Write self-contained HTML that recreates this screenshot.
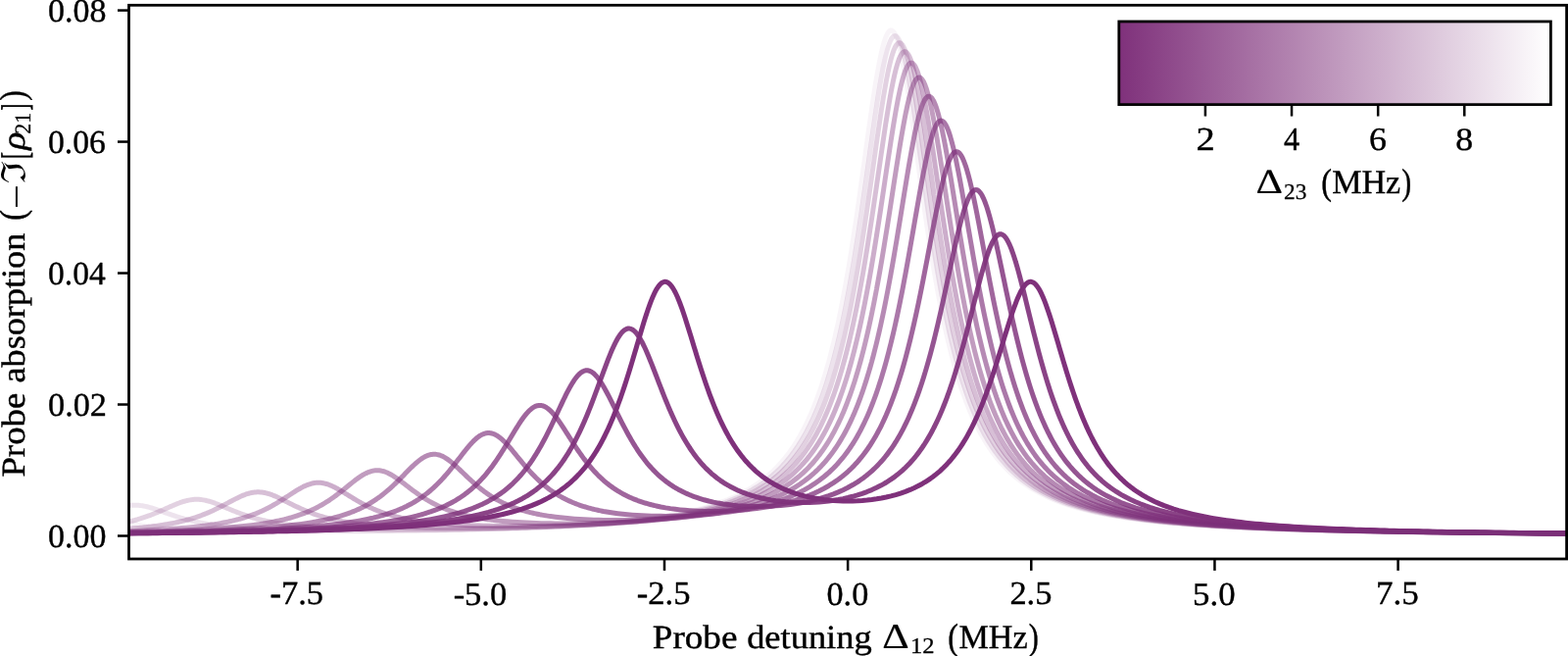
<!DOCTYPE html>
<html lang="en">
<head>
<meta charset="utf-8">
<title>Probe absorption vs probe detuning</title>
<style>
html,body{margin:0;padding:0;background:#fff;}
body{width:1600px;height:669px;overflow:hidden;}
svg{display:block;}
text{font-family:"Liberation Serif", serif;font-size:33.33px;fill:#000;text-rendering:geometricPrecision;stroke:#000;stroke-width:0.4px;stroke-linejoin:round;}
.im{font-family:"DejaVu Math TeX Gyre","DejaVu Sans",serif;stroke:none;}
.it{font-style:italic;}
.ns{stroke-width:0.15px;}
.c{fill:none;stroke:#7f317b;stroke-width:5.0;stroke-linejoin:round;stroke-linecap:butt;}
.sp{fill:none;stroke:#000;stroke-width:2.78;}
.tk{stroke:#000;stroke-width:2.5;}
</style>
</head>
<body>
<svg width="1600" height="669" viewBox="0 0 1600 669">
<defs>
<clipPath id="ax"><rect x="131.5" y="5.3" width="1467.10" height="564.70"/></clipPath>
<linearGradient id="cb" x1="0" y1="0" x2="1" y2="0">
<stop offset="0" stop-color="#7f317b" stop-opacity="1"/>
<stop offset="1" stop-color="#7f317b" stop-opacity="0"/>
</linearGradient>
</defs>
<rect x="0" y="0" width="1600" height="669" fill="#fff"/>
<g clip-path="url(#ax)">
<polyline class="c" stroke-opacity="1.000" points="131.48,543.9 136.37,543.85 141.26,543.81 146.16,543.77 151.05,543.72 155.94,543.67 160.83,543.63 165.72,543.58 170.61,543.53 175.5,543.48 180.39,543.42 185.28,543.37 190.17,543.31 195.07,543.25 199.96,543.19 204.85,543.13 209.74,543.07 214.63,543 219.52,542.94 224.41,542.87 229.3,542.8 234.19,542.72 239.08,542.65 243.98,542.57 248.87,542.49 253.76,542.41 258.65,542.32 263.54,542.23 268.43,542.14 273.32,542.05 278.21,541.95 283.1,541.85 287.99,541.74 292.88,541.63 297.78,541.52 302.67,541.4 307.56,541.28 312.45,541.16 317.34,541.03 322.23,540.89 327.12,540.75 332.01,540.6 336.9,540.45 341.79,540.29 346.69,540.13 351.58,539.96 356.47,539.78 361.36,539.59 366.25,539.39 371.14,539.19 376.03,538.98 380.92,538.75 385.81,538.52 390.7,538.27 395.6,538.02 400.49,537.75 405.38,537.46 410.27,537.17 415.16,536.85 420.05,536.52 424.94,536.18 429.83,535.81 434.72,535.42 439.61,535.01 444.51,534.58 449.4,534.12 454.29,533.63 459.18,533.11 464.07,532.56 468.96,531.98 473.85,531.35 478.74,530.69 483.63,529.97 488.52,529.21 493.42,528.39 498.31,527.51 503.2,526.57 508.09,525.55 512.98,524.45 517.87,523.26 522.76,521.97 527.65,520.58 532.54,519.05 537.43,517.4 542.33,515.58 547.22,513.6 552.11,511.42 557,509.03 558.2,508.4 559.69,507.6 561.19,506.78 561.89,506.38 562.69,505.93 564.18,505.05 565.68,504.14 566.78,503.46 567.18,503.21 568.68,502.25 570.17,501.25 571.67,500.23 571.67,500.23 573.17,499.16 574.67,498.07 576.16,496.94 576.56,496.63 577.66,495.77 579.16,494.56 580.65,493.31 581.45,492.62 582.15,492.01 583.65,490.68 585.15,489.29 586.34,488.15 586.64,487.86 588.14,486.38 589.64,484.84 591.14,483.25 591.23,483.15 592.63,481.61 594.13,479.91 595.63,478.14 596.13,477.54 597.12,476.31 598.62,474.42 600.12,472.45 601.02,471.24 601.62,470.42 603.11,468.31 604.61,466.12 605.91,464.16 606.11,463.85 607.6,461.5 609.1,459.07 610.6,456.54 610.8,456.2 612.1,453.92 613.59,451.21 615.09,448.4 615.69,447.25 616.59,445.49 618.09,442.47 619.58,439.34 620.58,437.2 621.08,436.11 622.58,432.76 624.07,429.3 625.47,425.97 625.57,425.73 627.07,422.03 628.57,418.22 630.06,414.28 630.36,413.48 631.56,410.23 633.06,406.06 634.56,401.77 635.25,399.73 636.05,397.37 637.55,392.86 639.05,388.24 640.14,384.79 640.54,383.52 642.04,378.71 643.54,373.81 645.04,368.85 645.04,368.85 646.53,363.83 648.03,358.77 649.53,353.68 649.93,352.32 651.02,348.58 652.52,343.5 654.02,338.46 654.82,335.8 655.52,333.48 657.01,328.6 658.51,323.84 659.71,320.14 660.01,319.24 661.51,314.82 663,310.62 664.5,306.67 664.6,306.42 666,303.01 667.49,299.67 668.99,296.67 669.49,295.76 670.49,294.05 671.99,291.84 673.48,290.05 674.38,289.18 674.98,288.7 676.48,287.8 677.98,287.37 679.27,287.37 679.47,287.41 680.97,287.91 682.47,288.87 683.96,290.28 684.16,290.5 685.46,292.12 686.96,294.37 688.46,297.01 689.05,298.16 689.95,300 691.45,303.33 692.95,306.95 693.95,309.52 694.44,310.85 695.94,314.97 697.44,319.3 698.84,323.49 698.94,323.79 700.43,328.43 701.93,333.17 703.43,337.99 703.73,338.96 704.93,342.86 706.42,347.76 707.92,352.67 708.62,354.96 709.42,357.56 710.91,362.43 712.41,367.24 713.51,370.73 713.91,372 715.41,376.68 716.9,381.28 718.4,385.78 719.9,390.19 721.39,394.5 722.89,398.69 723.29,399.79 724.39,402.78 725.89,406.75 727.38,410.61 728.18,412.61 728.88,414.35 730.38,417.97 731.88,421.48 733.07,424.21 733.37,424.88 734.87,428.17 736.37,431.34 737.86,434.41 737.96,434.61 739.36,437.37 740.86,440.23 742.36,442.99 742.86,443.89 743.85,445.65 745.35,448.21 746.85,450.69 747.75,452.13 748.35,453.07 749.84,455.37 751.34,457.59 752.64,459.45 752.84,459.73 754.33,461.78 755.83,463.77 757.33,465.68 757.53,465.93 758.83,467.52 760.32,469.3 761.82,471.01 762.42,471.67 763.32,472.65 764.81,474.24 766.31,475.77 767.31,476.76 767.81,477.25 769.31,478.67 770.8,480.04 772.2,481.27 772.3,481.36 773.8,482.63 775.3,483.86 776.79,485.04 777.09,485.27 778.29,486.18 779.79,487.28 781.28,488.34 781.98,488.82 782.78,489.36 784.28,490.35 785.78,491.3 786.87,491.97 787.27,492.21 788.77,493.1 790.27,493.95 791.77,494.77 791.77,494.77 793.26,495.56 794.76,496.32 796.26,497.05 796.66,497.24 797.75,497.76 801.55,499.44 806.44,501.38 811.33,503.09 816.22,504.59 821.11,505.9 826,507.04 830.89,508.02 835.78,508.84 840.68,509.53 845.57,510.08 850.46,510.5 855.35,510.8 860.24,510.98 865.13,511.03 870.02,510.98 874.91,510.8 879.8,510.5 884.69,510.08 889.58,509.53 894.48,508.84 899.37,508.02 904.26,507.04 909.15,505.9 914.04,504.59 918.93,503.09 923.82,501.38 928.71,499.44 932.51,497.76 933.6,497.24 934,497.05 935.5,496.32 937,495.56 938.49,494.77 938.49,494.77 939.99,493.95 941.49,493.1 942.99,492.21 943.39,491.97 944.48,491.3 945.98,490.35 947.48,489.36 948.28,488.82 948.98,488.34 950.47,487.28 951.97,486.18 953.17,485.27 953.47,485.04 954.96,483.86 956.46,482.63 957.96,481.36 958.06,481.27 959.46,480.04 960.95,478.67 962.45,477.25 962.95,476.76 963.95,475.77 965.45,474.24 966.94,472.65 967.84,471.67 968.44,471.01 969.94,469.3 971.43,467.52 972.73,465.93 972.93,465.68 974.43,463.77 975.93,461.78 977.42,459.73 977.62,459.45 978.92,457.59 980.42,455.37 981.91,453.07 982.51,452.13 983.41,450.69 984.91,448.21 986.41,445.65 987.4,443.89 987.9,442.99 989.4,440.23 990.9,437.37 992.3,434.61 992.4,434.41 993.89,431.34 995.39,428.17 996.89,424.88 997.19,424.21 998.38,421.48 999.88,417.97 1001.38,414.35 1002.08,412.61 1002.88,410.61 1004.37,406.75 1005.87,402.78 1006.97,399.79 1007.37,398.69 1008.87,394.5 1010.36,390.19 1011.86,385.78 1011.86,385.78 1013.36,381.28 1014.85,376.68 1016.35,372 1016.75,370.73 1017.85,367.24 1019.35,362.43 1020.84,357.56 1021.64,354.96 1022.34,352.67 1023.84,347.76 1025.33,342.86 1026.53,338.96 1026.83,337.99 1028.33,333.17 1029.83,328.43 1031.32,323.79 1031.42,323.49 1032.82,319.3 1034.32,314.97 1035.82,310.85 1036.31,309.52 1037.31,306.95 1038.81,303.33 1040.31,300 1041.21,298.16 1041.8,297.01 1043.3,294.37 1044.8,292.12 1046.1,290.5 1046.3,290.28 1047.79,288.87 1049.29,287.91 1050.79,287.41 1050.99,287.37 1052.28,287.37 1053.78,287.8 1055.28,288.7 1055.88,289.18 1056.78,290.05 1058.27,291.84 1059.77,294.05 1060.77,295.76 1061.27,296.67 1062.77,299.67 1064.26,303.01 1065.66,306.42 1065.76,306.67 1067.26,310.62 1068.75,314.82 1070.25,319.24 1070.55,320.14 1071.75,323.84 1073.25,328.6 1074.74,333.48 1075.44,335.8 1076.24,338.46 1077.74,343.5 1079.24,348.58 1080.33,352.32 1080.73,353.68 1082.23,358.77 1083.73,363.83 1085.22,368.85 1085.22,368.85 1086.72,373.81 1088.22,378.71 1089.72,383.52 1090.12,384.79 1091.21,388.24 1092.71,392.86 1094.21,397.37 1095.01,399.73 1095.7,401.77 1097.2,406.06 1098.7,410.23 1099.9,413.48 1100.2,414.28 1101.69,418.22 1103.19,422.03 1104.69,425.73 1104.79,425.97 1106.19,429.3 1107.68,432.76 1109.18,436.11 1109.68,437.2 1110.68,439.34 1112.17,442.47 1113.67,445.49 1114.57,447.25 1115.17,448.4 1116.67,451.21 1118.16,453.92 1119.46,456.2 1119.66,456.54 1121.16,459.07 1122.66,461.5 1124.15,463.85 1124.35,464.16 1125.65,466.12 1127.15,468.31 1128.64,470.42 1129.24,471.24 1130.14,472.45 1131.64,474.42 1133.14,476.31 1134.13,477.54 1134.63,478.14 1136.13,479.91 1137.63,481.61 1139.03,483.15 1139.12,483.25 1140.62,484.84 1142.12,486.38 1143.62,487.86 1143.92,488.15 1145.11,489.29 1146.61,490.68 1148.11,492.01 1148.81,492.62 1149.61,493.31 1151.1,494.56 1152.6,495.77 1153.7,496.63 1154.1,496.94 1155.59,498.07 1157.09,499.16 1158.59,500.23 1158.59,500.23 1160.09,501.25 1161.58,502.25 1163.08,503.21 1163.48,503.46 1164.58,504.14 1166.08,505.05 1167.57,505.93 1168.37,506.38 1169.07,506.78 1170.57,507.6 1172.06,508.4 1173.26,509.03 1178.15,511.42 1183.04,513.6 1187.93,515.58 1192.83,517.4 1197.72,519.05 1202.61,520.58 1207.5,521.97 1212.39,523.26 1217.28,524.45 1222.17,525.55 1227.06,526.57 1231.95,527.51 1236.84,528.39 1241.74,529.21 1246.63,529.97 1251.52,530.69 1256.41,531.35 1261.3,531.98 1266.19,532.56 1271.08,533.11 1275.97,533.63 1280.86,534.12 1285.75,534.58 1290.65,535.01 1295.54,535.42 1300.43,535.81 1305.32,536.18 1310.21,536.52 1315.1,536.85 1319.99,537.17 1324.88,537.46 1329.77,537.75 1334.66,538.02 1339.56,538.27 1344.45,538.52 1349.34,538.75 1354.23,538.98 1359.12,539.19 1364.01,539.39 1368.9,539.59 1373.79,539.78 1378.68,539.96 1383.57,540.13 1388.47,540.29 1393.36,540.45 1398.25,540.6 1403.14,540.75 1408.03,540.89 1412.92,541.03 1417.81,541.16 1422.7,541.28 1427.59,541.4 1432.48,541.52 1437.38,541.63 1442.27,541.74 1447.16,541.85 1452.05,541.95 1456.94,542.05 1461.83,542.14 1466.72,542.23 1471.61,542.32 1476.5,542.41 1481.39,542.49 1486.28,542.57 1491.18,542.65 1496.07,542.72 1500.96,542.8 1505.85,542.87 1510.74,542.94 1515.63,543 1520.52,543.07 1525.41,543.13 1530.3,543.19 1535.19,543.25 1540.09,543.31 1544.98,543.37 1549.87,543.42 1554.76,543.48 1559.65,543.53 1564.54,543.58 1569.43,543.63 1574.32,543.67 1579.21,543.72 1584.1,543.77 1589,543.81 1593.89,543.85 1598.78,543.9"/>
<polyline class="c" stroke-opacity="0.914" points="131.48,543.82 136.37,543.78 141.26,543.73 146.16,543.68 151.05,543.63 155.94,543.58 160.83,543.53 165.72,543.48 170.61,543.42 175.5,543.37 180.39,543.31 185.28,543.25 190.17,543.19 195.07,543.13 199.96,543.06 204.85,543 209.74,542.93 214.63,542.86 219.52,542.78 224.41,542.71 229.3,542.63 234.19,542.55 239.08,542.46 243.98,542.38 248.87,542.29 253.76,542.2 258.65,542.1 263.54,542 268.43,541.9 273.32,541.79 278.21,541.68 283.1,541.57 287.99,541.45 292.88,541.32 297.78,541.2 302.67,541.06 307.56,540.92 312.45,540.78 317.34,540.63 322.23,540.47 327.12,540.31 332.01,540.14 336.9,539.96 341.79,539.77 346.69,539.57 351.58,539.37 356.47,539.16 361.36,538.93 366.25,538.7 371.14,538.45 376.03,538.19 380.92,537.92 385.81,537.63 390.7,537.32 395.6,537 400.49,536.67 405.38,536.31 410.27,535.93 415.16,535.53 420.05,535.1 424.94,534.65 429.83,534.17 434.72,533.66 439.61,533.12 444.51,532.54 449.4,531.91 454.29,531.25 459.18,530.53 464.07,529.77 468.96,528.94 473.85,528.05 478.74,527.09 483.63,526.05 488.52,524.93 493.42,523.7 498.31,522.37 503.2,520.92 508.09,519.33 512.98,517.59 517.87,515.68 521.1,514.31 522.6,513.65 522.76,513.58 524.09,512.97 525.59,512.26 527.09,511.53 527.65,511.25 528.59,510.79 530.08,510.01 531.58,509.21 532.54,508.69 533.08,508.39 534.57,507.54 536.07,506.66 537.43,505.84 537.57,505.76 539.07,504.82 540.56,503.86 542.06,502.86 542.33,502.68 543.56,501.83 545.06,500.76 546.55,499.65 547.22,499.15 548.05,498.51 549.55,497.33 551.04,496.11 552.11,495.22 552.54,494.85 554.04,493.54 555.54,492.18 557,490.81 557.03,490.78 558.53,489.33 560.03,487.82 561.52,486.27 561.89,485.88 563.02,484.65 564.52,482.98 566.02,481.25 566.78,480.34 567.51,479.45 569.01,477.59 570.51,475.67 571.67,474.12 572.01,473.67 573.5,471.6 575,469.46 576.5,467.24 576.56,467.14 577.99,464.94 579.49,462.56 580.99,460.1 581.45,459.32 582.49,457.55 583.98,454.91 585.48,452.19 586.34,450.57 586.98,449.37 588.48,446.46 589.97,443.45 591.23,440.84 591.47,440.35 592.97,437.16 594.46,433.87 595.96,430.49 596.13,430.11 597.46,427.01 598.96,423.45 600.45,419.8 601.02,418.4 601.95,416.06 603.45,412.25 604.94,408.37 605.91,405.84 606.44,404.43 607.94,400.43 609.44,396.39 610.8,392.68 610.93,392.31 612.43,388.23 613.93,384.13 615.43,380.06 615.69,379.34 616.92,376.02 618.42,372.03 619.92,368.12 620.58,366.42 621.41,364.32 622.91,360.63 624.41,357.1 625.47,354.7 625.91,353.74 627.4,350.59 628.9,347.66 630.36,345.05 630.4,344.99 631.9,342.59 633.39,340.49 634.89,338.71 635.25,338.33 636.39,337.27 637.88,336.17 639.38,335.43 640.14,335.2 640.88,335.06 642.38,335.06 643.87,335.42 645.04,335.96 645.37,336.15 646.87,337.23 648.36,338.65 649.86,340.4 649.93,340.48 651.36,342.46 652.86,344.8 654.35,347.4 654.82,348.26 655.85,350.25 657.35,353.31 658.85,356.56 659.71,358.5 660.34,359.97 661.84,363.52 663.34,367.18 664.6,370.34 664.83,370.93 666.33,374.75 667.83,378.62 669.33,382.51 669.49,382.94 670.82,386.42 672.32,390.32 673.82,394.19 674.38,395.65 675.32,398.04 676.81,401.84 678.31,405.58 679.27,407.96 679.81,409.27 681.3,412.88 682.8,416.42 684.16,419.57 684.3,419.87 685.8,423.25 687.29,426.53 688.79,429.73 689.05,430.28 690.29,432.84 691.78,435.85 693.28,438.78 693.95,440.04 694.78,441.61 696.28,444.35 697.77,447.01 698.84,448.84 699.27,449.58 700.77,452.06 702.27,454.45 703.73,456.71 703.76,456.77 705.26,459 706.76,461.16 708.25,463.23 708.62,463.73 709.75,465.24 711.25,467.17 712.75,469.04 713.51,469.96 714.24,470.83 715.74,472.56 717.24,474.23 718.4,475.49 718.73,475.84 720.23,477.39 721.73,478.88 723.23,480.32 723.29,480.38 724.72,481.7 726.22,483.04 727.72,484.32 728.18,484.71 729.22,485.56 730.71,486.75 732.21,487.9 733.07,488.55 733.71,489.01 735.2,490.08 736.7,491.1 737.96,491.94 738.2,492.09 739.7,493.04 741.19,493.96 742.69,494.84 742.86,494.94 744.19,495.7 745.69,496.52 747.18,497.3 747.75,497.59 748.68,498.06 750.18,498.8 751.67,499.5 752.64,499.94 753.17,500.18 754.67,500.83 756.17,501.46 757.53,502.01 757.66,502.06 759.16,502.64 760.66,503.2 762.42,503.83 767.31,505.42 772.2,506.82 777.09,508.03 781.98,509.07 786.87,509.96 791.77,510.71 796.66,511.31 801.55,511.79 806.44,512.15 811.33,512.4 816.22,512.53 821.11,512.54 826,512.45 830.89,512.25 835.78,511.94 840.68,511.51 845.57,510.97 850.46,510.31 855.35,509.52 860.24,508.59 865.13,507.52 870.02,506.29 874.91,504.9 879.8,503.33 884.69,501.55 889.58,499.56 894.48,497.33 899.37,494.82 901.55,493.61 903.04,492.74 904.26,492.01 904.54,491.84 906.04,490.91 907.53,489.95 909.03,488.95 909.15,488.87 910.53,487.91 912.03,486.84 913.52,485.73 914.04,485.34 915.02,484.59 916.52,483.4 918.02,482.16 918.93,481.39 919.51,480.89 921.01,479.56 922.51,478.19 923.82,476.95 924,476.77 925.5,475.3 927,473.77 928.5,472.19 928.71,471.96 929.99,470.55 931.49,468.85 932.99,467.08 933.6,466.34 934.49,465.25 935.98,463.35 937.48,461.39 938.49,460.01 938.98,459.34 940.47,457.22 941.97,455.03 943.39,452.87 943.47,452.74 944.97,450.38 946.46,447.92 947.96,445.37 948.28,444.82 949.46,442.73 950.95,439.98 952.45,437.14 953.17,435.74 953.95,434.18 955.45,431.12 956.94,427.94 958.06,425.5 958.44,424.65 959.94,421.23 961.44,417.69 962.93,414.02 962.95,413.98 964.43,410.22 965.93,406.29 967.42,402.22 967.84,401.06 968.92,398.01 970.42,393.66 971.92,389.17 972.73,386.67 973.41,384.54 974.91,379.77 976.41,374.85 977.62,370.77 977.91,369.8 979.4,364.62 980.9,359.3 982.4,353.86 982.51,353.43 983.89,348.3 985.39,342.64 986.89,336.88 987.4,334.88 988.39,331.04 989.88,325.14 991.38,319.2 992.3,315.55 992.88,313.22 994.37,307.25 995.87,301.31 997.19,296.14 997.37,295.42 998.87,289.63 1000.36,283.95 1001.86,278.44 1002.08,277.66 1003.36,273.12 1004.86,268.05 1006.35,263.25 1006.97,261.37 1007.85,258.77 1009.35,254.65 1010.84,250.94 1011.86,248.67 1012.34,247.66 1013.84,244.85 1015.34,242.54 1016.75,240.85 1016.83,240.76 1018.33,239.53 1019.83,238.86 1021.33,238.76 1021.64,238.82 1022.82,239.24 1024.32,240.28 1025.82,241.89 1026.53,242.85 1027.31,244.03 1028.81,246.7 1030.31,249.86 1031.42,252.51 1031.81,253.47 1033.3,257.52 1034.8,261.95 1036.3,266.73 1036.31,266.78 1037.79,271.81 1039.29,277.16 1040.79,282.74 1041.21,284.32 1042.29,288.5 1043.78,294.4 1045.28,300.41 1046.1,303.72 1046.78,306.5 1048.28,312.63 1049.77,318.77 1050.99,323.75 1051.27,324.91 1052.77,331 1054.26,337.04 1055.76,343.01 1055.88,343.47 1057.26,348.88 1058.76,354.65 1060.25,360.31 1060.77,362.23 1061.75,365.84 1063.25,371.24 1064.75,376.51 1065.66,379.66 1066.24,381.63 1067.74,386.61 1069.24,391.45 1070.55,395.57 1070.73,396.14 1072.23,400.68 1073.73,405.08 1075.23,409.34 1075.44,409.94 1076.72,413.45 1078.22,417.42 1079.72,421.26 1080.33,422.8 1081.21,424.97 1082.71,428.55 1084.21,432 1085.22,434.27 1085.71,435.33 1087.2,438.54 1088.7,441.64 1090.12,444.46 1090.2,444.63 1091.7,447.5 1093.19,450.28 1094.69,452.96 1095.01,453.51 1096.19,455.54 1097.68,458.03 1099.18,460.43 1099.9,461.55 1100.68,462.74 1102.18,464.98 1103.67,467.13 1104.79,468.69 1105.17,469.21 1106.67,471.22 1108.17,473.15 1109.66,475.02 1109.68,475.04 1111.16,476.82 1112.66,478.56 1114.15,480.25 1114.57,480.7 1115.65,481.87 1117.15,483.44 1118.65,484.96 1119.46,485.77 1120.14,486.43 1121.64,487.85 1123.14,489.22 1124.35,490.3 1124.63,490.55 1126.13,491.83 1127.63,493.07 1129.13,494.28 1129.24,494.37 1130.62,495.44 1132.12,496.57 1133.62,497.66 1134.13,498.03 1135.12,498.72 1136.61,499.75 1138.11,500.74 1139.03,501.34 1139.61,501.71 1141.1,502.64 1143.92,504.33 1148.81,507.04 1153.7,509.5 1158.59,511.75 1163.48,513.8 1168.37,515.67 1173.26,517.4 1178.15,518.98 1183.04,520.44 1187.93,521.78 1192.83,523.03 1197.72,524.18 1202.61,525.25 1207.5,526.24 1212.39,527.17 1217.28,528.03 1222.17,528.84 1227.06,529.59 1231.95,530.3 1236.84,530.96 1241.74,531.59 1246.63,532.17 1251.52,532.72 1256.41,533.24 1261.3,533.73 1266.19,534.19 1271.08,534.63 1275.97,535.05 1280.86,535.44 1285.75,535.81 1290.65,536.16 1295.54,536.5 1300.43,536.82 1305.32,537.12 1310.21,537.41 1315.1,537.69 1319.99,537.95 1324.88,538.2 1329.77,538.44 1334.66,538.67 1339.56,538.89 1344.45,539.1 1349.34,539.3 1354.23,539.5 1359.12,539.68 1364.01,539.86 1368.9,540.03 1373.79,540.19 1378.68,540.35 1383.57,540.5 1388.47,540.65 1393.36,540.79 1398.25,540.93 1403.14,541.06 1408.03,541.18 1412.92,541.3 1417.81,541.42 1422.7,541.53 1427.59,541.64 1432.48,541.75 1437.38,541.85 1442.27,541.95 1447.16,542.05 1452.05,542.14 1456.94,542.23 1461.83,542.32 1466.72,542.4 1471.61,542.48 1476.5,542.56 1481.39,542.64 1486.28,542.71 1491.18,542.78 1496.07,542.85 1500.96,542.92 1505.85,542.99 1510.74,543.05 1515.63,543.11 1520.52,543.17 1525.41,543.23 1530.3,543.29 1535.19,543.35 1540.09,543.4 1544.98,543.45 1549.87,543.51 1554.76,543.56 1559.65,543.61 1564.54,543.65 1569.43,543.7 1574.32,543.74 1579.21,543.79 1584.1,543.83 1589,543.87 1593.89,543.92 1598.78,543.96"/>
<polyline class="c" stroke-opacity="0.827" points="131.48,543.72 136.37,543.67 141.26,543.62 146.16,543.57 151.05,543.52 155.94,543.46 160.83,543.4 165.72,543.35 170.61,543.29 175.5,543.22 180.39,543.16 185.28,543.09 190.17,543.03 195.07,542.96 199.96,542.88 204.85,542.81 209.74,542.73 214.63,542.65 219.52,542.57 224.41,542.48 229.3,542.39 234.19,542.3 239.08,542.2 243.98,542.1 248.87,542 253.76,541.89 258.65,541.78 263.54,541.67 268.43,541.55 273.32,541.42 278.21,541.29 283.1,541.16 287.99,541.01 292.88,540.87 297.78,540.71 302.67,540.55 307.56,540.38 312.45,540.21 317.34,540.02 322.23,539.83 327.12,539.63 332.01,539.41 336.9,539.19 341.79,538.95 346.69,538.7 351.58,538.44 356.47,538.17 361.36,537.88 366.25,537.57 371.14,537.24 376.03,536.9 380.92,536.53 385.81,536.14 390.7,535.73 395.6,535.29 400.49,534.82 405.38,534.31 410.27,533.78 415.16,533.2 420.05,532.58 424.94,531.92 429.83,531.21 434.72,530.44 439.61,529.6 444.51,528.7 449.4,527.72 454.29,526.66 459.18,525.5 464.07,524.24 468.96,522.86 473.85,521.34 478.15,519.88 478.74,519.67 479.65,519.35 481.14,518.79 482.64,518.22 483.63,517.83 484.14,517.63 485.64,517.03 487.13,516.4 488.52,515.8 488.63,515.76 490.13,515.09 491.62,514.41 493.12,513.7 493.42,513.56 494.62,512.97 496.12,512.21 497.61,511.43 498.31,511.06 499.11,510.63 500.61,509.79 502.11,508.93 503.2,508.29 503.6,508.05 505.1,507.13 506.6,506.17 508.09,505.2 508.09,505.19 509.59,504.17 511.09,503.12 512.59,502.03 512.98,501.74 514.08,500.91 515.58,499.74 517.08,498.53 517.87,497.87 518.58,497.28 520.07,495.99 521.57,494.64 522.76,493.54 523.07,493.26 524.56,491.82 526.06,490.33 527.56,488.79 527.65,488.69 529.06,487.19 530.55,485.53 532.05,483.82 532.54,483.24 533.55,482.05 535.04,480.21 536.54,478.31 537.43,477.15 538.04,476.35 539.54,474.32 541.03,472.21 542.33,470.35 542.53,470.04 544.03,467.8 545.53,465.48 547.02,463.1 547.22,462.78 548.52,460.63 550.02,458.1 551.51,455.49 552.11,454.44 553.01,452.81 554.51,450.06 556.01,447.24 557,445.33 557.5,444.35 559,441.4 560.5,438.39 561.89,435.55 562,435.33 563.49,432.22 564.99,429.07 566.49,425.89 566.78,425.27 567.98,422.69 569.48,419.48 570.98,416.27 571.67,414.79 572.48,413.07 573.97,409.9 575.47,406.78 576.56,404.54 576.97,403.72 578.46,400.74 579.96,397.86 581.45,395.11 581.46,395.1 582.96,392.48 584.45,390.01 585.95,387.72 586.34,387.16 587.45,385.63 588.95,383.76 590.44,382.12 591.23,381.35 591.94,380.72 593.44,379.58 594.93,378.72 596.13,378.23 596.43,378.13 597.93,377.82 599.43,377.8 600.92,378.07 601.02,378.09 602.42,378.61 603.92,379.43 605.42,380.51 605.91,380.93 606.91,381.85 608.41,383.43 609.91,385.23 610.8,386.4 611.4,387.23 612.9,389.42 614.4,391.78 615.69,393.94 615.9,394.29 617.39,396.93 618.89,399.68 620.39,402.52 620.58,402.89 621.88,405.43 623.38,408.4 624.88,411.41 625.47,412.61 626.38,414.44 627.87,417.48 629.37,420.53 630.36,422.53 630.87,423.55 632.37,426.56 633.86,429.53 635.25,432.26 635.36,432.47 636.86,435.35 638.35,438.19 639.85,440.97 640.14,441.5 641.35,443.68 642.85,446.33 644.34,448.92 645.04,450.09 645.84,451.44 647.34,453.89 648.83,456.27 649.93,457.95 650.33,458.57 651.83,460.81 653.33,462.98 654.82,465.07 654.82,465.08 656.32,467.1 657.82,469.07 659.32,470.96 659.71,471.45 660.81,472.8 662.31,474.56 663.81,476.27 664.6,477.15 665.3,477.92 666.8,479.51 668.3,481.04 669.49,482.22 669.8,482.52 671.29,483.94 672.79,485.31 674.29,486.64 674.38,486.72 675.79,487.91 677.28,489.14 678.78,490.32 679.27,490.7 680.28,491.46 681.77,492.56 683.27,493.62 684.16,494.23 684.77,494.64 686.27,495.62 687.76,496.57 689.05,497.35 689.26,497.48 690.76,498.35 692.25,499.2 693.75,500.01 693.95,500.11 695.25,500.79 696.75,501.55 698.24,502.27 698.84,502.55 699.74,502.97 701.24,503.64 702.74,504.29 703.73,504.7 704.23,504.91 705.73,505.51 707.23,506.09 708.62,506.6 708.72,506.64 710.22,507.17 711.72,507.68 713.22,508.18 713.51,508.27 714.71,508.65 716.21,509.1 717.71,509.54 718.4,509.73 723.29,511.01 728.18,512.13 733.07,513.09 737.96,513.91 742.86,514.6 747.75,515.18 752.64,515.64 757.53,515.99 762.42,516.25 767.31,516.41 772.2,516.48 777.09,516.45 781.98,516.34 786.87,516.13 791.77,515.84 796.66,515.46 801.55,514.98 806.44,514.4 811.33,513.73 816.22,512.95 821.11,512.05 826,511.04 830.89,509.9 835.78,508.62 840.68,507.19 845.57,505.6 850.46,503.83 855.35,501.87 860.24,499.68 865.13,497.25 870.02,494.56 874.91,491.56 876.44,490.55 877.94,489.53 879.43,488.48 879.8,488.22 880.93,487.39 882.43,486.27 883.93,485.1 884.69,484.49 885.42,483.9 886.92,482.66 888.42,481.37 889.58,480.34 889.91,480.04 891.41,478.66 892.91,477.23 894.41,475.76 894.48,475.69 895.9,474.23 897.4,472.65 898.9,471.01 899.37,470.48 900.4,469.31 901.89,467.55 903.39,465.73 904.26,464.64 904.89,463.84 906.38,461.88 907.88,459.85 909.15,458.07 909.38,457.75 910.88,455.56 912.37,453.3 913.87,450.96 914.04,450.68 915.37,448.52 916.86,446 918.36,443.38 918.93,442.35 919.86,440.66 921.36,437.84 922.85,434.91 923.82,432.96 924.35,431.87 925.85,428.72 927.35,425.44 928.71,422.35 928.84,422.05 930.34,418.53 931.84,414.87 933.33,411.08 933.6,410.39 934.83,407.15 936.33,403.07 937.83,398.85 938.49,396.91 939.32,394.47 940.82,389.94 942.32,385.24 943.39,381.8 943.82,380.39 945.31,375.37 946.81,370.18 948.28,364.93 948.31,364.82 949.8,359.3 951.3,353.61 952.8,347.76 953.17,346.29 954.3,341.74 955.79,335.57 957.29,329.24 958.06,325.94 958.79,322.78 960.28,316.19 961.78,309.48 962.95,304.17 963.28,302.67 964.78,295.77 966.27,288.82 967.77,281.83 967.84,281.5 969.27,274.83 970.77,267.85 972.26,260.94 972.73,258.79 973.76,254.11 975.26,247.43 976.75,240.92 977.62,237.25 978.25,234.64 979.75,228.63 981.25,222.95 982.51,218.42 982.74,217.63 984.24,212.74 985.74,208.31 987.24,204.39 987.4,203.98 988.73,201.02 990.23,198.25 991.73,196.09 992.3,195.44 993.22,194.58 994.72,193.73 996.22,193.56 997.19,193.8 997.72,194.06 999.21,195.24 1000.71,197.07 1002.08,199.31 1002.21,199.55 1003.7,202.64 1005.2,206.31 1006.7,210.52 1006.97,211.33 1008.2,215.23 1009.69,220.4 1011.19,225.98 1011.86,228.58 1012.69,231.91 1014.19,238.15 1015.68,244.65 1016.75,249.42 1017.18,251.36 1018.68,258.24 1020.17,265.24 1021.64,272.18 1021.67,272.32 1023.17,279.45 1024.67,286.59 1026.16,293.71 1026.53,295.46 1027.66,300.79 1029.16,307.79 1030.65,314.7 1031.42,318.21 1032.15,321.5 1033.65,328.18 1035.15,334.72 1036.31,339.71 1036.64,341.11 1038.14,347.34 1039.64,353.41 1041.14,359.32 1041.21,359.59 1042.63,365.06 1044.13,370.62 1045.63,376.01 1046.1,377.67 1047.12,381.23 1048.62,386.29 1050.12,391.17 1050.99,393.93 1051.62,395.89 1053.11,400.45 1054.61,404.85 1055.88,408.45 1056.11,409.09 1057.61,413.19 1059.1,417.13 1060.6,420.94 1060.77,421.36 1062.1,424.61 1063.59,428.15 1065.09,431.56 1065.66,432.82 1066.59,434.85 1068.09,438.01 1069.58,441.07 1070.55,442.98 1071.08,444.01 1072.58,446.85 1074.07,449.58 1075.44,451.99 1075.57,452.22 1077.07,454.76 1078.57,457.21 1080.06,459.57 1080.33,459.99 1081.56,461.85 1083.06,464.05 1084.56,466.17 1085.22,467.1 1086.05,468.22 1087.55,470.2 1089.05,472.11 1090.12,473.43 1090.54,473.96 1092.04,475.74 1093.54,477.46 1095.01,479.09 1095.04,479.12 1096.53,480.73 1098.03,482.29 1099.53,483.79 1099.9,484.16 1101.03,485.25 1102.52,486.65 1104.02,488.02 1104.79,488.7 1105.52,489.34 1107.01,490.61 1108.51,491.85 1109.68,492.79 1110.01,493.05 1111.51,494.21 1113,495.34 1114.5,496.43 1114.57,496.48 1116,497.48 1119.46,499.81 1124.35,502.83 1129.24,505.58 1134.13,508.08 1139.03,510.37 1143.92,512.46 1148.81,514.38 1153.7,516.14 1158.59,517.77 1163.48,519.27 1168.37,520.65 1173.26,521.93 1178.15,523.12 1183.04,524.23 1187.93,525.26 1192.83,526.22 1197.72,527.12 1202.61,527.95 1207.5,528.74 1212.39,529.47 1217.28,530.16 1222.17,530.81 1227.06,531.43 1231.95,532 1236.84,532.54 1241.74,533.06 1246.63,533.54 1251.52,534 1256.41,534.44 1261.3,534.85 1266.19,535.24 1271.08,535.61 1275.97,535.96 1280.86,536.3 1285.75,536.62 1290.65,536.92 1295.54,537.22 1300.43,537.49 1305.32,537.76 1310.21,538.01 1315.1,538.25 1319.99,538.49 1324.88,538.71 1329.77,538.92 1334.66,539.12 1339.56,539.32 1344.45,539.51 1349.34,539.69 1354.23,539.86 1359.12,540.03 1364.01,540.19 1368.9,540.34 1373.79,540.49 1378.68,540.64 1383.57,540.77 1388.47,540.91 1393.36,541.04 1398.25,541.16 1403.14,541.28 1408.03,541.4 1412.92,541.51 1417.81,541.62 1422.7,541.72 1427.59,541.82 1432.48,541.92 1437.38,542.02 1442.27,542.11 1447.16,542.2 1452.05,542.28 1456.94,542.37 1461.83,542.45 1466.72,542.53 1471.61,542.6 1476.5,542.68 1481.39,542.75 1486.28,542.82 1491.18,542.89 1496.07,542.95 1500.96,543.02 1505.85,543.08 1510.74,543.14 1515.63,543.2 1520.52,543.26 1525.41,543.31 1530.3,543.37 1535.19,543.42 1540.09,543.47 1544.98,543.52 1549.87,543.57 1554.76,543.62 1559.65,543.67 1564.54,543.71 1569.43,543.76 1574.32,543.8 1579.21,543.84 1584.1,543.88 1589,543.92 1593.89,543.96 1598.78,544"/>
<polyline class="c" stroke-opacity="0.741" points="131.48,543.58 136.37,543.53 141.26,543.47 146.16,543.41 151.05,543.35 155.94,543.29 160.83,543.23 165.72,543.16 170.61,543.09 175.5,543.02 180.39,542.95 185.28,542.87 190.17,542.79 195.07,542.71 199.96,542.62 204.85,542.53 209.74,542.44 214.63,542.35 219.52,542.25 224.41,542.15 229.3,542.04 234.19,541.93 239.08,541.81 243.98,541.69 248.87,541.57 253.76,541.44 258.65,541.3 263.54,541.15 268.43,541 273.32,540.85 278.21,540.68 283.1,540.51 287.99,540.33 292.88,540.14 297.78,539.94 302.67,539.73 307.56,539.5 312.45,539.27 317.34,539.02 322.23,538.76 327.12,538.48 332.01,538.19 336.9,537.87 341.79,537.54 346.69,537.19 351.58,536.81 356.47,536.41 361.36,535.98 366.25,535.52 371.14,535.03 376.03,534.5 380.92,533.94 385.81,533.33 390.7,532.66 395.6,531.95 400.49,531.18 405.38,530.34 410.27,529.42 415.16,528.42 420.05,527.33 424.94,526.14 429.83,524.83 430.08,524.76 431.58,524.33 433.07,523.89 434.57,523.43 434.72,523.39 436.07,522.96 437.57,522.48 439.06,521.98 439.61,521.8 440.56,521.47 442.06,520.94 443.56,520.39 444.51,520.03 445.05,519.83 446.55,519.24 448.05,518.64 449.4,518.08 449.54,518.02 451.04,517.38 452.54,516.72 454.04,516.03 454.29,515.92 455.53,515.33 457.03,514.6 458.53,513.84 459.18,513.5 460.03,513.06 461.52,512.25 463.02,511.41 464.07,510.81 464.52,510.55 466.01,509.66 467.51,508.73 468.96,507.8 469.01,507.77 470.51,506.78 472,505.75 473.5,504.69 473.85,504.44 475,503.59 476.49,502.45 477.99,501.28 478.74,500.67 479.49,500.06 480.99,498.79 482.48,497.49 483.63,496.45 483.98,496.13 485.48,494.73 486.98,493.28 488.47,491.79 488.52,491.73 489.97,490.24 491.47,488.63 492.96,486.98 493.42,486.47 494.46,485.27 495.96,483.51 497.46,481.69 498.31,480.63 498.95,479.81 500.45,477.88 501.95,475.89 503.2,474.18 503.45,473.84 504.94,471.74 506.44,469.58 507.94,467.38 508.09,467.15 509.43,465.12 510.93,462.81 512.43,460.46 512.98,459.59 513.93,458.07 515.42,455.64 516.92,453.19 517.87,451.62 518.42,450.71 519.91,448.22 521.41,445.72 522.76,443.47 522.91,443.22 524.41,440.74 525.9,438.28 527.4,435.86 527.65,435.46 528.9,433.49 530.4,431.18 531.89,428.95 532.54,428 533.39,426.81 534.89,424.78 536.38,422.87 537.43,421.62 537.88,421.1 539.38,419.49 540.88,418.04 542.33,416.8 542.37,416.77 543.87,415.68 545.37,414.8 546.87,414.13 547.22,414 548.36,413.67 549.86,413.43 551.36,413.4 552.11,413.47 552.85,413.6 554.35,414.01 555.85,414.63 557,415.25 557.35,415.46 558.84,416.48 560.34,417.69 561.84,419.06 561.89,419.11 563.33,420.6 564.83,422.28 566.33,424.1 566.78,424.67 567.83,426.03 569.32,428.06 570.82,430.18 571.67,431.41 572.32,432.36 573.82,434.61 575.31,436.9 576.56,438.84 576.81,439.23 578.31,441.58 579.8,443.93 581.3,446.29 581.45,446.53 582.8,448.64 584.3,450.97 585.79,453.28 586.34,454.12 587.29,455.56 588.79,457.8 590.28,460.01 591.23,461.38 591.78,462.17 593.28,464.29 594.78,466.35 596.13,468.17 596.27,468.37 597.77,470.34 599.27,472.25 600.77,474.11 601.02,474.41 602.26,475.91 603.76,477.66 605.26,479.36 605.91,480.08 606.75,481 608.25,482.59 609.75,484.13 610.8,485.18 611.25,485.62 612.74,487.05 614.24,488.44 615.69,489.74 615.74,489.78 617.24,491.07 618.73,492.32 620.23,493.53 620.58,493.8 621.73,494.69 623.22,495.81 624.72,496.89 625.47,497.41 626.22,497.93 627.72,498.93 629.21,499.9 630.36,500.61 630.71,500.83 632.21,501.73 633.7,502.59 635.2,503.42 635.25,503.45 636.7,504.22 638.2,505 639.69,505.74 640.14,505.96 641.19,506.46 642.69,507.15 644.19,507.81 645.04,508.18 645.68,508.45 647.18,509.07 648.68,509.66 649.93,510.14 650.17,510.24 651.67,510.79 653.17,511.32 654.67,511.83 654.82,511.88 656.16,512.32 657.66,512.79 659.16,513.24 659.71,513.4 660.66,513.68 662.15,514.1 663.65,514.5 664.6,514.75 665.15,514.89 666.64,515.26 668.14,515.62 669.49,515.93 669.64,515.96 674.38,516.96 679.27,517.86 684.16,518.64 689.05,519.3 693.95,519.87 698.84,520.34 703.73,520.72 708.62,521.02 713.51,521.24 718.4,521.39 723.29,521.46 728.18,521.47 733.07,521.41 737.96,521.29 742.86,521.09 747.75,520.84 752.64,520.51 757.53,520.12 762.42,519.66 767.31,519.12 772.2,518.51 777.09,517.82 781.98,517.05 786.87,516.19 791.77,515.23 796.66,514.17 801.55,513.01 806.44,511.72 811.33,510.3 816.22,508.75 821.11,507.03 826,505.15 830.89,503.08 835.78,500.79 840.68,498.27 845.57,495.49 850.46,492.42 855.35,489.01 856.45,488.19 857.95,487.05 859.45,485.88 860.24,485.24 860.94,484.66 862.44,483.4 863.94,482.1 865.13,481.04 865.44,480.76 866.93,479.37 868.43,477.94 869.93,476.45 870.02,476.36 871.42,474.92 872.92,473.33 874.42,471.69 874.91,471.14 875.92,469.99 877.41,468.23 878.91,466.41 879.8,465.3 880.41,464.53 881.91,462.58 883.4,460.55 884.69,458.75 884.9,458.46 886.4,456.29 887.89,454.04 889.39,451.71 889.58,451.4 890.89,449.29 892.39,446.78 893.88,444.18 894.48,443.12 895.38,441.48 896.88,438.68 898.37,435.78 899.37,433.79 899.87,432.76 901.37,429.64 902.87,426.39 904.26,423.26 904.36,423.02 905.86,419.52 907.36,415.89 908.86,412.13 909.15,411.37 910.35,408.22 911.85,404.16 913.35,399.95 914.04,397.95 914.84,395.58 916.34,391.05 917.84,386.36 918.93,382.82 919.34,381.49 920.83,376.44 922.33,371.22 923.82,365.83 923.83,365.81 925.33,360.21 926.82,354.42 928.32,348.45 928.71,346.85 929.82,342.28 931.31,335.92 932.81,329.37 933.6,325.83 934.31,322.64 935.81,315.73 937.3,308.64 938.49,302.88 938.8,301.39 940.3,293.99 941.79,286.45 943.29,278.79 943.39,278.3 944.79,271.02 946.29,263.19 947.78,255.3 948.28,252.7 949.28,247.4 950.78,239.51 952.28,231.68 953.17,227.06 953.77,223.95 955.27,216.37 956.77,208.98 958.06,202.81 958.26,201.84 959.76,195 961.26,188.52 962.76,182.45 962.95,181.7 964.25,176.86 965.75,171.78 967.25,167.29 967.84,165.68 968.75,163.41 970.24,160.21 971.74,157.7 972.73,156.45 973.24,155.93 974.73,154.92 976.23,154.67 977.62,155.12 977.73,155.19 979.23,156.47 980.72,158.51 982.22,161.27 982.51,161.89 983.72,164.73 985.21,168.85 986.71,173.59 987.4,175.97 988.21,178.89 989.71,184.71 991.2,190.98 992.3,195.82 992.7,197.66 994.2,204.69 995.7,212 997.19,219.52 997.19,219.55 998.69,227.29 1000.19,235.16 1001.68,243.12 1002.08,245.21 1003.18,251.12 1004.68,259.13 1006.18,267.12 1006.97,271.32 1007.67,275.05 1009.17,282.89 1010.67,290.62 1011.86,296.69 1012.17,298.23 1013.66,305.69 1015.16,312.99 1016.66,320.13 1016.75,320.57 1018.15,327.08 1019.65,333.85 1021.15,340.43 1021.64,342.55 1022.65,346.82 1024.14,353.01 1025.64,359.01 1026.53,362.49 1027.14,364.81 1028.63,370.42 1030.13,375.85 1031.42,380.37 1031.63,381.08 1033.13,386.14 1034.62,391.02 1036.12,395.72 1036.31,396.32 1037.62,400.26 1039.12,404.63 1040.61,408.84 1041.21,410.47 1042.11,412.9 1043.61,416.82 1045.1,420.59 1046.1,423.01 1046.6,424.22 1048.1,427.72 1049.6,431.09 1050.99,434.11 1051.09,434.34 1052.59,437.47 1054.09,440.48 1055.59,443.39 1055.88,443.95 1057.08,446.19 1058.58,448.89 1060.08,451.5 1060.77,452.67 1061.57,454.01 1063.07,456.43 1064.57,458.77 1065.66,460.42 1066.07,461.03 1067.56,463.2 1069.06,465.3 1070.55,467.33 1070.56,467.33 1072.05,469.29 1073.55,471.19 1075.05,473.02 1075.44,473.49 1076.55,474.78 1078.04,476.49 1079.54,478.15 1080.33,479 1081.04,479.74 1082.54,481.29 1084.03,482.79 1085.22,483.94 1085.53,484.24 1087.03,485.64 1088.52,486.99 1090.02,488.31 1090.12,488.39 1091.52,489.58 1093.02,490.82 1094.51,492.02 1095.01,492.4 1096.01,493.18 1099.9,496.03 1104.79,499.31 1109.68,502.3 1114.57,505.02 1119.46,507.5 1124.35,509.77 1129.24,511.86 1134.13,513.77 1139.03,515.53 1143.92,517.16 1148.81,518.66 1153.7,520.05 1158.59,521.34 1163.48,522.54 1168.37,523.66 1173.26,524.7 1178.15,525.67 1183.04,526.58 1187.93,527.43 1192.83,528.23 1197.72,528.98 1202.61,529.68 1207.5,530.34 1212.39,530.96 1217.28,531.55 1222.17,532.11 1227.06,532.63 1231.95,533.13 1236.84,533.6 1241.74,534.04 1246.63,534.47 1251.52,534.87 1256.41,535.25 1261.3,535.61 1266.19,535.96 1271.08,536.29 1275.97,536.6 1280.86,536.9 1285.75,537.19 1290.65,537.46 1295.54,537.72 1300.43,537.97 1305.32,538.21 1310.21,538.44 1315.1,538.66 1319.99,538.87 1324.88,539.07 1329.77,539.27 1334.66,539.45 1339.56,539.63 1344.45,539.81 1349.34,539.97 1354.23,540.13 1359.12,540.29 1364.01,540.43 1368.9,540.58 1373.79,540.72 1378.68,540.85 1383.57,540.98 1388.47,541.1 1393.36,541.22 1398.25,541.34 1403.14,541.45 1408.03,541.56 1412.92,541.66 1417.81,541.77 1422.7,541.86 1427.59,541.96 1432.48,542.05 1437.38,542.14 1442.27,542.23 1447.16,542.31 1452.05,542.39 1456.94,542.47 1461.83,542.55 1466.72,542.62 1471.61,542.7 1476.5,542.77 1481.39,542.84 1486.28,542.9 1491.18,542.97 1496.07,543.03 1500.96,543.09 1505.85,543.15 1510.74,543.21 1515.63,543.27 1520.52,543.32 1525.41,543.38 1530.3,543.43 1535.19,543.48 1540.09,543.53 1544.98,543.58 1549.87,543.62 1554.76,543.67 1559.65,543.72 1564.54,543.76 1569.43,543.8 1574.32,543.84 1579.21,543.89 1584.1,543.93 1589,543.96 1593.89,544 1598.78,544.04"/>
<polyline class="c" stroke-opacity="0.655" points="131.48,543.38 136.37,543.32 141.26,543.25 146.16,543.18 151.05,543.11 155.94,543.04 160.83,542.96 165.72,542.88 170.61,542.8 175.5,542.71 180.39,542.62 185.28,542.53 190.17,542.43 195.07,542.33 199.96,542.22 204.85,542.11 209.74,542 214.63,541.87 219.52,541.75 224.41,541.62 229.3,541.48 234.19,541.33 239.08,541.18 243.98,541.02 248.87,540.85 253.76,540.67 258.65,540.49 263.54,540.29 268.43,540.08 273.32,539.86 278.21,539.63 283.1,539.38 287.99,539.12 292.88,538.84 297.78,538.54 302.67,538.23 307.56,537.89 312.45,537.53 317.34,537.14 322.23,536.73 327.12,536.28 332.01,535.81 336.9,535.29 341.79,534.73 346.69,534.13 351.58,533.47 356.47,532.76 361.36,531.99 366.25,531.14 371.14,530.22 376.03,529.21 377.82,528.81 379.32,528.47 380.82,528.12 380.92,528.09 382.31,527.76 383.81,527.38 385.31,527 385.81,526.87 386.8,526.6 388.3,526.19 389.8,525.77 390.7,525.51 391.3,525.34 392.79,524.89 394.29,524.43 395.6,524.01 395.79,523.95 397.29,523.45 398.78,522.95 400.28,522.42 400.49,522.35 401.78,521.88 403.27,521.32 404.77,520.74 405.38,520.5 406.27,520.14 407.77,519.52 409.26,518.88 410.27,518.44 410.76,518.22 412.26,517.53 413.76,516.82 415.16,516.14 415.25,516.09 416.75,515.33 418.25,514.55 419.74,513.74 420.05,513.57 421.24,512.9 422.74,512.03 424.24,511.13 424.94,510.69 425.73,510.2 427.23,509.23 428.73,508.24 429.83,507.48 430.22,507.21 431.72,506.14 433.22,505.04 434.72,503.89 434.72,503.89 436.21,502.71 437.71,501.49 439.21,500.23 439.61,499.88 440.71,498.93 442.2,497.59 443.7,496.2 444.51,495.44 445.2,494.77 446.69,493.3 448.19,491.78 449.4,490.53 449.69,490.22 451.19,488.61 452.68,486.97 454.18,485.28 454.29,485.16 455.68,483.55 457.18,481.78 458.67,479.98 459.18,479.36 460.17,478.14 461.67,476.28 463.16,474.38 464.07,473.23 464.66,472.47 466.16,470.54 467.66,468.59 468.96,466.9 469.15,466.65 470.65,464.7 472.15,462.77 473.64,460.86 473.85,460.6 475.14,458.98 476.64,457.14 478.14,455.35 478.74,454.64 479.63,453.62 481.13,451.96 482.63,450.38 483.63,449.38 484.13,448.91 485.62,447.54 487.12,446.29 488.52,445.23 488.62,445.17 490.11,444.18 491.61,443.35 493.11,442.66 493.42,442.54 494.61,442.14 496.1,441.79 497.6,441.6 498.31,441.57 499.1,441.58 500.6,441.73 502.09,442.05 503.2,442.38 503.59,442.53 505.09,443.16 506.58,443.95 508.08,444.88 508.09,444.88 509.58,445.94 511.08,447.13 512.57,448.43 512.98,448.8 514.07,449.83 515.57,451.33 517.06,452.9 517.87,453.77 518.56,454.54 520.06,456.24 521.56,457.98 522.76,459.41 523.05,459.76 524.55,461.56 526.05,463.38 527.55,465.22 527.65,465.35 529.04,467.05 530.54,468.87 532.04,470.69 532.54,471.3 533.53,472.49 535.03,474.27 536.53,476.02 537.43,477.06 538.03,477.74 539.52,479.43 541.02,481.08 542.33,482.49 542.52,482.69 544.02,484.27 545.51,485.81 547.01,487.31 547.22,487.51 548.51,488.76 550,490.18 551.5,491.55 552.11,492.09 553,492.88 554.5,494.17 555.99,495.41 557,496.23 557.49,496.62 558.99,497.79 560.48,498.92 561.89,499.94 561.98,500.01 563.48,501.06 564.98,502.08 566.47,503.06 566.78,503.26 567.97,504.01 569.47,504.92 570.97,505.8 571.67,506.21 572.46,506.65 573.96,507.47 575.46,508.26 576.56,508.83 576.95,509.03 578.45,509.76 579.95,510.47 581.45,511.15 581.45,511.15 582.94,511.81 584.44,512.44 585.94,513.05 586.34,513.21 587.44,513.64 588.93,514.21 590.43,514.75 591.23,515.04 591.93,515.28 593.42,515.79 594.92,516.28 596.13,516.65 596.42,516.75 597.92,517.2 599.41,517.63 600.91,518.05 601.02,518.08 602.41,518.46 603.9,518.85 605.4,519.22 605.91,519.35 606.9,519.58 608.4,519.93 609.89,520.26 610.8,520.46 611.39,520.59 612.89,520.89 614.39,521.19 615.69,521.44 615.88,521.48 617.38,521.75 620.58,522.3 625.47,523.06 630.36,523.71 635.25,524.28 640.14,524.77 645.04,525.18 649.93,525.53 654.82,525.81 659.71,526.03 664.6,526.2 669.49,526.31 674.38,526.37 679.27,526.38 684.16,526.35 689.05,526.26 693.95,526.14 698.84,525.96 703.73,525.74 708.62,525.48 713.51,525.17 718.4,524.81 723.29,524.4 728.18,523.94 733.07,523.43 737.96,522.86 742.86,522.24 747.75,521.55 752.64,520.8 757.53,519.98 762.42,519.08 767.31,518.1 772.2,517.04 777.09,515.88 781.98,514.62 786.87,513.24 791.77,511.75 796.66,510.11 801.55,508.33 806.44,506.39 811.33,504.26 816.22,501.92 821.11,499.36 826,496.55 830.89,493.46 835.78,490.04 840.65,486.28 840.68,486.26 842.15,485.04 843.65,483.77 845.15,482.45 845.57,482.08 846.64,481.09 848.14,479.69 849.64,478.24 850.46,477.43 851.14,476.74 852.63,475.2 854.13,473.6 855.35,472.25 855.63,471.94 857.12,470.23 858.62,468.46 860.12,466.63 860.24,466.48 861.62,464.74 863.11,462.78 864.61,460.75 865.13,460.02 866.11,458.64 867.61,456.46 869.1,454.21 870.02,452.78 870.6,451.87 872.1,449.45 873.59,446.94 874.91,444.65 875.09,444.33 876.59,441.63 878.09,438.83 879.58,435.93 879.8,435.49 881.08,432.91 882.58,429.78 884.07,426.54 884.69,425.16 885.57,423.17 887.07,419.67 888.57,416.04 889.58,413.49 890.06,412.27 891.56,408.36 893.06,404.29 894.48,400.3 894.56,400.08 896.05,395.7 897.55,391.15 899.05,386.44 899.37,385.41 900.54,381.54 902.04,376.47 903.54,371.21 904.26,368.61 905.04,365.75 906.53,360.1 908.03,354.24 909.15,349.74 909.53,348.18 911.03,341.91 912.52,335.44 914.02,328.75 914.04,328.66 915.52,321.85 917.01,314.74 918.51,307.43 918.93,305.34 920.01,299.91 921.51,292.2 923,284.31 923.82,279.92 924.5,276.25 926,268.02 927.49,259.67 928.71,252.78 928.99,251.19 930.49,242.63 931.99,234 933.48,225.35 933.6,224.66 934.98,216.71 936.48,208.13 937.98,199.65 938.49,196.74 939.47,191.32 940.97,183.2 942.47,175.34 943.39,170.68 943.96,167.81 945.46,160.66 946.96,153.96 948.28,148.49 948.46,147.78 949.95,142.16 951.45,137.18 952.95,132.88 953.17,132.31 954.44,129.31 955.94,126.51 957.44,124.52 958.06,123.94 958.94,123.36 960.43,123.04 961.93,123.57 962.95,124.41 963.43,124.94 964.93,127.14 966.42,130.14 967.84,133.69 967.92,133.91 969.42,138.4 970.91,143.57 972.41,149.37 972.73,150.68 973.91,155.72 975.41,162.58 976.9,169.88 977.62,173.53 978.4,177.56 979.9,185.55 981.4,193.8 982.51,200.09 982.89,202.24 984.39,210.83 985.89,219.51 987.38,228.23 987.4,228.35 988.88,236.97 990.38,245.66 991.88,254.29 992.3,256.69 993.37,262.82 994.87,271.23 996.37,279.5 997.19,283.96 997.86,287.61 999.36,295.53 1000.86,303.27 1002.08,309.43 1002.36,310.82 1003.85,318.15 1005.35,325.28 1006.85,332.2 1006.97,332.74 1008.35,338.9 1009.84,345.39 1011.34,351.66 1011.86,353.79 1012.84,357.73 1014.33,363.59 1015.83,369.24 1016.75,372.62 1017.33,374.7 1018.83,379.97 1020.32,385.04 1021.64,389.36 1021.82,389.93 1023.32,394.64 1024.82,399.19 1026.31,403.56 1026.53,404.19 1027.81,407.77 1029.31,411.83 1030.8,415.74 1031.42,417.32 1032.3,419.51 1033.8,423.13 1035.3,426.63 1036.31,428.93 1036.79,429.99 1038.29,433.23 1039.79,436.36 1041.21,439.21 1041.28,439.37 1042.78,442.27 1044.28,445.07 1045.78,447.77 1046.1,448.33 1047.27,450.37 1048.77,452.88 1050.27,455.3 1050.99,456.43 1051.77,457.63 1053.26,459.89 1054.76,462.06 1055.88,463.64 1056.26,464.17 1057.75,466.2 1059.25,468.16 1060.75,470.05 1060.77,470.08 1062.25,471.88 1063.74,473.66 1065.24,475.37 1065.66,475.84 1066.74,477.02 1068.24,478.63 1069.73,480.18 1070.55,481.01 1071.23,481.68 1072.73,483.13 1074.22,484.54 1075.44,485.65 1075.72,485.91 1077.22,487.23 1078.72,488.51 1080.21,489.75 1080.33,489.85 1085.22,493.64 1090.12,497.08 1095.01,500.2 1099.9,503.05 1104.79,505.65 1109.68,508.02 1114.57,510.21 1119.46,512.21 1124.35,514.06 1129.24,515.76 1134.13,517.34 1139.03,518.8 1143.92,520.15 1148.81,521.41 1153.7,522.58 1158.59,523.67 1163.48,524.69 1168.37,525.64 1173.26,526.54 1178.15,527.37 1183.04,528.16 1187.93,528.9 1192.83,529.59 1197.72,530.25 1202.61,530.86 1207.5,531.45 1212.39,532 1217.28,532.52 1222.17,533.01 1227.06,533.48 1231.95,533.92 1236.84,534.35 1241.74,534.75 1246.63,535.13 1251.52,535.49 1256.41,535.84 1261.3,536.17 1266.19,536.48 1271.08,536.78 1275.97,537.07 1280.86,537.34 1285.75,537.6 1290.65,537.85 1295.54,538.1 1300.43,538.33 1305.32,538.55 1310.21,538.76 1315.1,538.96 1319.99,539.16 1324.88,539.35 1329.77,539.53 1334.66,539.7 1339.56,539.87 1344.45,540.03 1349.34,540.19 1354.23,540.34 1359.12,540.48 1364.01,540.62 1368.9,540.76 1373.79,540.89 1378.68,541.01 1383.57,541.13 1388.47,541.25 1393.36,541.37 1398.25,541.48 1403.14,541.58 1408.03,541.69 1412.92,541.78 1417.81,541.88 1422.7,541.98 1427.59,542.07 1432.48,542.15 1437.38,542.24 1442.27,542.32 1447.16,542.4 1452.05,542.48 1456.94,542.56 1461.83,542.63 1466.72,542.7 1471.61,542.77 1476.5,542.84 1481.39,542.91 1486.28,542.97 1491.18,543.03 1496.07,543.09 1500.96,543.15 1505.85,543.21 1510.74,543.27 1515.63,543.32 1520.52,543.38 1525.41,543.43 1530.3,543.48 1535.19,543.53 1540.09,543.58 1544.98,543.62 1549.87,543.67 1554.76,543.71 1559.65,543.76 1564.54,543.8 1569.43,543.84 1574.32,543.88 1579.21,543.92 1584.1,543.96 1589,544 1593.89,544.04 1598.78,544.07"/>
<polyline class="c" stroke-opacity="0.568" points="131.48,543.08 136.37,542.99 141.26,542.91 146.16,542.82 151.05,542.73 155.94,542.64 160.83,542.54 165.72,542.43 170.61,542.32 175.5,542.21 180.39,542.09 185.28,541.96 190.17,541.83 195.07,541.69 199.96,541.54 204.85,541.39 209.74,541.23 214.63,541.05 219.52,540.87 224.41,540.68 229.3,540.48 234.19,540.26 239.08,540.03 243.98,539.78 248.87,539.52 253.76,539.25 258.65,538.95 263.54,538.63 268.43,538.29 273.32,537.92 278.21,537.53 283.1,537.1 287.99,536.64 292.88,536.14 297.78,535.6 302.67,535.02 307.56,534.38 312.45,533.68 317.34,532.91 322.23,532.08 322.28,532.07 323.77,531.79 325.27,531.51 326.77,531.22 327.12,531.15 328.27,530.93 329.76,530.62 331.26,530.3 332.01,530.14 332.76,529.98 334.26,529.64 335.75,529.29 336.9,529.02 337.25,528.93 338.75,528.56 340.24,528.18 341.74,527.79 341.79,527.78 343.24,527.38 344.74,526.97 346.23,526.53 346.69,526.4 347.73,526.09 349.23,525.62 350.72,525.15 351.58,524.87 352.22,524.65 353.72,524.14 355.22,523.62 356.47,523.16 356.71,523.07 358.21,522.51 359.71,521.92 361.21,521.32 361.36,521.26 362.7,520.7 364.2,520.05 365.7,519.39 366.25,519.13 367.19,518.69 368.69,517.98 370.19,517.24 371.14,516.76 371.69,516.48 373.18,515.68 374.68,514.87 376.03,514.1 376.18,514.02 377.68,513.14 379.17,512.24 380.67,511.3 380.92,511.14 382.17,510.34 383.66,509.34 385.16,508.31 385.81,507.85 386.66,507.24 388.16,506.15 389.65,505.01 390.7,504.2 391.15,503.85 392.65,502.65 394.14,501.42 395.6,500.19 395.64,500.15 397.14,498.85 398.64,497.52 400.13,496.15 400.49,495.83 401.63,494.76 403.13,493.34 404.63,491.89 405.38,491.16 406.12,490.42 407.62,488.93 409.12,487.43 410.27,486.26 410.61,485.91 412.11,484.38 413.61,482.86 415.11,481.33 415.16,481.28 416.6,479.81 418.1,478.32 419.6,476.84 420.05,476.4 421.1,475.4 422.59,474 424.09,472.64 424.94,471.9 425.59,471.34 427.08,470.12 428.58,468.96 429.83,468.06 430.08,467.89 431.58,466.91 433.07,466.04 434.57,465.27 434.72,465.2 436.07,464.62 437.56,464.09 439.06,463.68 439.61,463.57 440.56,463.41 442.06,463.26 443.55,463.25 444.51,463.31 445.05,463.37 446.55,463.62 448.05,463.99 449.4,464.44 449.54,464.49 451.04,465.11 452.54,465.84 454.03,466.67 454.29,466.82 455.53,467.6 457.03,468.62 458.53,469.72 459.18,470.22 460.02,470.89 461.52,472.12 463.02,473.4 464.07,474.33 464.52,474.73 466.01,476.1 467.51,477.49 468.96,478.87 469.01,478.91 470.5,480.34 472,481.78 473.5,483.22 473.85,483.56 475,484.66 476.49,486.09 477.99,487.5 478.74,488.21 479.49,488.9 480.98,490.28 482.48,491.63 483.63,492.66 483.98,492.96 485.48,494.27 486.97,495.54 488.47,496.79 488.52,496.83 489.97,498 491.47,499.18 492.96,500.33 493.42,500.67 494.46,501.45 495.96,502.53 497.45,503.59 498.31,504.17 498.95,504.61 500.45,505.59 501.95,506.55 503.2,507.32 503.44,507.47 504.94,508.37 506.44,509.23 507.94,510.07 508.09,510.15 509.43,510.87 510.93,511.65 512.43,512.41 512.98,512.68 513.92,513.13 515.42,513.83 516.92,514.51 517.87,514.92 518.42,515.16 519.91,515.79 521.41,516.39 522.76,516.92 522.91,516.98 524.4,517.54 525.9,518.08 527.4,518.61 527.65,518.7 528.9,519.11 530.39,519.6 531.89,520.07 532.54,520.27 533.39,520.52 534.89,520.96 536.38,521.38 537.43,521.66 537.88,521.78 539.38,522.17 540.87,522.55 542.33,522.9 542.37,522.91 543.87,523.26 545.37,523.6 546.86,523.92 547.22,524 548.36,524.24 549.86,524.54 551.35,524.83 552.11,524.97 552.85,525.11 554.35,525.37 555.85,525.63 557,525.83 557.34,525.88 558.84,526.12 560.34,526.35 561.84,526.58 561.89,526.58 566.78,527.25 571.67,527.84 576.56,528.35 581.45,528.8 586.34,529.19 591.23,529.52 596.13,529.8 601.02,530.03 605.91,530.22 610.8,530.37 615.69,530.48 620.58,530.55 625.47,530.59 630.36,530.6 635.25,530.57 640.14,530.51 645.04,530.42 649.93,530.29 654.82,530.14 659.71,529.96 664.6,529.75 669.49,529.5 674.38,529.23 679.27,528.92 684.16,528.58 689.05,528.2 693.95,527.79 698.84,527.34 703.73,526.86 708.62,526.33 713.51,525.75 718.4,525.14 723.29,524.47 728.18,523.74 733.07,522.97 737.96,522.13 742.86,521.22 747.75,520.24 752.64,519.19 757.53,518.05 762.42,516.82 767.31,515.49 772.2,514.05 777.09,512.49 781.98,510.79 786.87,508.95 791.77,506.95 796.66,504.76 801.55,502.38 806.44,499.77 811.33,496.91 816.22,493.76 821.11,490.3 826,486.49 828.14,484.69 829.64,483.39 830.89,482.26 831.14,482.04 832.63,480.65 834.13,479.22 835.63,477.74 835.78,477.58 837.13,476.21 838.62,474.63 840.12,473 840.68,472.38 841.62,471.31 843.11,469.57 844.61,467.76 845.57,466.58 846.11,465.9 847.61,463.97 849.1,461.97 850.46,460.11 850.6,459.9 852.1,457.76 853.6,455.55 855.09,453.25 855.35,452.85 856.59,450.88 858.09,448.41 859.58,445.86 860.24,444.71 861.08,443.21 862.58,440.46 864.08,437.62 865.13,435.55 865.57,434.66 867.07,431.6 868.57,428.42 870.02,425.22 870.07,425.12 871.56,421.7 873.06,418.14 874.56,414.45 874.91,413.56 876.05,410.62 877.55,406.64 879.05,402.51 879.8,400.37 880.55,398.22 882.04,393.77 883.54,389.14 884.69,385.46 885.04,384.34 886.53,379.35 888.03,374.18 889.53,368.81 889.58,368.61 891.03,363.25 892.52,357.47 894.02,351.49 894.48,349.63 895.52,345.29 897.02,338.86 898.51,332.22 899.37,328.33 900.01,325.35 901.51,318.26 903,310.94 904.26,304.63 904.5,303.39 906,295.62 907.5,287.63 908.99,279.43 909.15,278.57 910.49,271.04 911.99,262.45 913.49,253.69 914.04,250.41 914.98,244.79 916.48,235.75 917.98,226.61 918.93,220.75 919.47,217.4 920.97,208.16 922.47,198.92 923.82,190.62 923.97,189.74 925.46,180.66 926.96,171.74 928.46,163.03 928.71,161.57 929.95,154.6 931.45,146.51 932.95,138.83 933.6,135.62 934.45,131.62 935.94,124.97 937.44,118.92 938.49,115.06 938.94,113.54 940.44,108.89 941.93,105.03 943.39,102.07 943.43,102 944.93,99.82 946.42,98.54 947.92,98.17 948.28,98.21 949.42,98.71 950.92,100.15 952.41,102.48 953.17,103.98 953.91,105.67 955.41,109.69 956.91,114.48 958.06,118.67 958.4,120 959.9,126.18 961.4,132.97 962.89,140.3 962.95,140.58 964.39,148.09 965.89,156.29 967.39,164.82 967.84,167.47 968.88,173.62 970.38,182.63 971.88,191.79 972.73,197.06 973.37,201.05 974.87,210.35 976.37,219.65 977.62,227.41 977.87,228.91 979.36,238.1 980.86,247.18 982.36,256.12 982.51,257.04 983.86,264.91 985.35,273.52 986.85,281.94 987.4,285.01 988.35,290.16 989.84,298.16 991.34,305.95 992.3,310.79 992.84,313.51 994.34,320.84 995.83,327.94 997.19,334.16 997.33,334.81 998.83,341.46 1000.33,347.88 1001.82,354.08 1002.08,355.12 1003.32,360.06 1004.82,365.84 1006.31,371.4 1006.97,373.77 1007.81,376.77 1009.31,381.93 1010.81,386.91 1011.86,390.31 1012.3,391.71 1013.8,396.33 1015.3,400.78 1016.75,404.93 1016.79,405.06 1018.29,409.18 1019.79,413.16 1021.29,416.98 1021.64,417.87 1022.78,420.66 1024.28,424.21 1025.78,427.63 1026.53,429.3 1027.28,430.92 1028.77,434.09 1030.27,437.15 1031.42,439.43 1031.77,440.1 1033.26,442.94 1034.76,445.68 1036.26,448.32 1036.31,448.42 1037.76,450.87 1039.25,453.33 1040.75,455.7 1041.21,456.4 1042.25,457.99 1043.75,460.2 1045.24,462.34 1046.1,463.52 1046.74,464.4 1048.24,466.39 1049.73,468.32 1050.99,469.88 1051.23,470.18 1052.73,471.98 1054.23,473.73 1055.72,475.41 1055.88,475.58 1057.22,477.04 1058.72,478.62 1060.21,480.15 1060.77,480.7 1061.71,481.63 1063.21,483.06 1064.71,484.45 1065.66,485.31 1066.2,485.8 1067.7,487.1 1070.55,489.47 1075.44,493.24 1080.33,496.66 1085.22,499.78 1090.12,502.62 1095.01,505.21 1099.9,507.59 1104.79,509.77 1109.68,511.78 1114.57,513.63 1119.46,515.34 1124.35,516.92 1129.24,518.39 1134.13,519.75 1139.03,521.02 1143.92,522.2 1148.81,523.3 1153.7,524.33 1158.59,525.29 1163.48,526.19 1168.37,527.04 1173.26,527.83 1178.15,528.58 1183.04,529.28 1187.93,529.94 1192.83,530.57 1197.72,531.16 1202.61,531.72 1207.5,532.25 1212.39,532.75 1217.28,533.22 1222.17,533.67 1227.06,534.1 1231.95,534.51 1236.84,534.9 1241.74,535.27 1246.63,535.62 1251.52,535.95 1256.41,536.27 1261.3,536.58 1266.19,536.87 1271.08,537.15 1275.97,537.42 1280.86,537.68 1285.75,537.92 1290.65,538.16 1295.54,538.38 1300.43,538.6 1305.32,538.81 1310.21,539.01 1315.1,539.2 1319.99,539.38 1324.88,539.56 1329.77,539.73 1334.66,539.9 1339.56,540.06 1344.45,540.21 1349.34,540.36 1354.23,540.5 1359.12,540.64 1364.01,540.77 1368.9,540.9 1373.79,541.02 1378.68,541.14 1383.57,541.26 1388.47,541.37 1393.36,541.48 1398.25,541.59 1403.14,541.69 1408.03,541.79 1412.92,541.88 1417.81,541.98 1422.7,542.07 1427.59,542.15 1432.48,542.24 1437.38,542.32 1442.27,542.4 1447.16,542.48 1452.05,542.55 1456.94,542.63 1461.83,542.7 1466.72,542.77 1471.61,542.83 1476.5,542.9 1481.39,542.96 1486.28,543.03 1491.18,543.09 1496.07,543.15 1500.96,543.2 1505.85,543.26 1510.74,543.31 1515.63,543.37 1520.52,543.42 1525.41,543.47 1530.3,543.52 1535.19,543.57 1540.09,543.61 1544.98,543.66 1549.87,543.7 1554.76,543.75 1559.65,543.79 1564.54,543.83 1569.43,543.87 1574.32,543.91 1579.21,543.95 1584.1,543.99 1589,544.03 1593.89,544.06 1598.78,544.1"/>
<polyline class="c" stroke-opacity="0.482" points="131.48,542.56 136.37,542.44 141.26,542.33 146.16,542.2 151.05,542.07 155.94,541.93 160.83,541.78 165.72,541.63 170.61,541.46 175.5,541.29 180.39,541.1 185.28,540.91 190.17,540.7 195.07,540.47 199.96,540.23 204.85,539.98 209.74,539.7 214.63,539.41 219.52,539.09 224.41,538.75 229.3,538.38 234.19,537.99 239.08,537.55 243.98,537.08 248.87,536.57 253.76,536.02 258.65,535.41 263.54,534.74 264.21,534.64 265.71,534.42 267.21,534.2 268.43,534.01 268.7,533.96 270.2,533.72 271.7,533.47 273.2,533.22 273.32,533.2 274.69,532.96 276.19,532.69 277.69,532.41 278.21,532.31 279.18,532.12 280.68,531.82 282.18,531.51 283.1,531.32 283.68,531.2 285.17,530.87 286.67,530.53 287.99,530.23 288.17,530.18 289.67,529.83 291.16,529.45 292.66,529.07 292.88,529.01 294.16,528.67 295.65,528.26 297.15,527.84 297.78,527.66 298.65,527.4 300.15,526.95 301.64,526.48 302.67,526.15 303.14,526 304.64,525.49 306.14,524.98 307.56,524.47 307.63,524.44 309.13,523.89 310.63,523.31 312.12,522.72 312.45,522.59 313.62,522.11 315.12,521.47 316.62,520.81 317.34,520.49 318.11,520.14 319.61,519.43 321.11,518.71 322.23,518.15 322.6,517.96 324.1,517.19 325.6,516.39 327.1,515.56 327.12,515.55 328.59,514.71 330.09,513.83 331.59,512.93 332.01,512.66 333.09,511.99 334.58,511.04 336.08,510.05 336.9,509.5 337.58,509.04 339.07,508 340.57,506.94 341.79,506.05 342.07,505.85 343.57,504.74 345.06,503.6 346.56,502.45 346.69,502.35 348.06,501.28 349.56,500.09 351.05,498.89 351.58,498.47 352.55,497.69 354.05,496.47 355.54,495.26 356.47,494.51 357.04,494.04 358.54,492.84 360.04,491.65 361.36,490.61 361.53,490.48 363.03,489.33 364.53,488.22 366.02,487.15 366.25,486.99 367.52,486.12 369.02,485.15 370.52,484.23 371.14,483.87 372.01,483.39 373.51,482.62 375.01,481.92 376.03,481.5 376.51,481.32 378,480.8 379.5,480.38 380.92,480.08 381,480.07 382.49,479.85 383.99,479.74 385.49,479.73 385.81,479.74 386.99,479.83 388.48,480.02 389.98,480.33 390.7,480.51 391.48,480.72 392.98,481.21 394.47,481.79 395.6,482.28 395.97,482.46 397.47,483.2 398.96,484.01 400.46,484.88 400.49,484.89 401.96,485.81 403.46,486.79 404.95,487.81 405.38,488.11 406.45,488.87 407.95,489.96 409.44,491.07 410.27,491.69 410.94,492.2 412.44,493.34 413.94,494.48 415.16,495.42 415.43,495.63 416.93,496.77 418.43,497.91 419.93,499.04 420.05,499.14 421.42,500.16 422.92,501.26 424.42,502.34 424.94,502.71 425.91,503.4 427.41,504.44 428.91,505.46 429.83,506.08 430.41,506.46 431.9,507.43 433.4,508.37 434.72,509.19 434.9,509.29 436.39,510.19 437.89,511.05 439.39,511.9 439.61,512.02 440.89,512.71 442.38,513.5 443.88,514.27 444.51,514.58 445.38,515.01 446.88,515.73 448.37,516.42 449.4,516.88 449.87,517.09 451.37,517.74 452.86,518.37 454.29,518.94 454.36,518.97 455.86,519.55 457.36,520.12 458.85,520.66 459.18,520.77 460.35,521.18 461.85,521.69 463.35,522.18 464.07,522.41 464.84,522.65 466.34,523.1 467.84,523.54 468.96,523.86 469.33,523.96 470.83,524.37 472.33,524.76 473.83,525.14 473.85,525.15 475.32,525.5 476.82,525.86 478.32,526.2 478.74,526.29 479.81,526.52 481.31,526.84 482.81,527.14 483.63,527.31 484.31,527.44 485.8,527.72 487.3,527.99 488.52,528.21 488.8,528.26 490.3,528.51 491.79,528.76 493.29,528.99 493.42,529.01 494.79,529.22 496.28,529.44 497.78,529.65 498.31,529.72 499.28,529.85 500.78,530.05 502.27,530.24 503.2,530.35 503.77,530.42 508.09,530.91 512.98,531.41 517.87,531.84 522.76,532.22 527.65,532.56 532.54,532.85 537.43,533.1 542.33,533.31 547.22,533.49 552.11,533.64 557,533.76 561.89,533.85 566.78,533.91 571.67,533.95 576.56,533.97 581.45,533.97 586.34,533.94 591.23,533.89 596.13,533.82 601.02,533.73 605.91,533.62 610.8,533.49 615.69,533.34 620.58,533.17 625.47,532.98 630.36,532.77 635.25,532.53 640.14,532.28 645.04,532 649.93,531.7 654.82,531.38 659.71,531.03 664.6,530.65 669.49,530.25 674.38,529.82 679.27,529.36 684.16,528.86 689.05,528.33 693.95,527.76 698.84,527.16 703.73,526.51 708.62,525.82 713.51,525.08 718.4,524.28 723.29,523.43 728.18,522.52 733.07,521.54 737.96,520.5 742.86,519.37 747.75,518.16 752.64,516.85 757.53,515.44 762.42,513.92 767.31,512.27 772.2,510.49 777.09,508.56 781.98,506.45 786.87,504.17 791.77,501.67 796.66,498.94 801.55,495.95 806.44,492.67 811.33,489.05 816.22,485.07 818.15,483.38 819.65,482.03 821.11,480.67 821.15,480.63 822.64,479.19 824.14,477.7 825.64,476.16 826,475.78 827.13,474.58 828.63,472.94 830.13,471.24 830.89,470.35 831.63,469.49 833.12,467.68 834.62,465.81 835.78,464.31 836.12,463.87 837.62,461.87 839.11,459.79 840.61,457.65 840.68,457.55 842.11,455.43 843.6,453.12 845.1,450.74 845.57,449.98 846.6,448.27 848.1,445.71 849.59,443.06 850.46,441.49 851.09,440.31 852.59,437.46 854.08,434.5 855.35,431.92 855.58,431.43 857.08,428.25 858.58,424.95 860.07,421.52 860.24,421.13 861.57,417.96 863.07,414.26 864.57,410.43 865.13,408.94 866.06,406.44 867.56,402.31 869.06,398.01 870.02,395.16 870.55,393.55 872.05,388.91 873.55,384.1 874.91,379.56 875.05,379.1 876.54,373.91 878.04,368.52 879.54,362.93 879.8,361.92 881.04,357.13 882.53,351.11 884.03,344.88 884.69,342.03 885.53,338.41 887.02,331.71 888.52,324.78 889.58,319.71 890.02,317.61 891.52,310.21 893.01,302.56 894.48,294.86 894.51,294.67 896.01,286.55 897.5,278.2 899,269.63 899.37,267.5 900.5,260.84 902,251.85 903.49,242.68 904.26,237.94 904.99,233.35 906.49,223.87 907.99,214.29 909.15,206.78 909.48,204.62 910.98,194.92 912.48,185.22 913.97,175.57 914.04,175.15 915.47,166.02 916.97,156.63 918.47,147.47 918.93,144.68 919.96,138.59 921.46,130.06 922.96,121.97 923.82,117.52 924.46,114.37 925.95,107.34 927.45,100.95 928.71,96.1 928.95,95.26 930.44,90.35 931.94,86.25 933.44,83.03 933.6,82.73 934.94,80.72 936.43,79.35 937.93,78.93 938.49,79.02 939.43,79.47 940.92,80.97 942.42,83.4 943.39,85.45 943.92,86.74 945.42,90.95 946.91,95.98 948.28,101.22 948.41,101.77 949.91,108.26 951.41,115.39 952.9,123.09 953.17,124.5 954.4,131.27 955.9,139.88 957.39,148.83 958.06,152.9 958.89,158.07 960.39,167.52 961.89,177.13 962.95,184.01 963.38,186.83 964.88,196.58 966.38,206.32 967.84,215.8 967.88,216.03 969.37,225.64 970.87,235.15 972.37,244.51 972.73,246.76 973.86,253.7 975.36,262.71 976.86,271.51 977.62,275.92 978.36,280.1 979.85,288.46 981.35,296.59 982.51,302.74 982.85,304.48 984.34,312.13 985.84,319.54 987.34,326.71 987.4,327.02 988.84,333.65 990.33,340.34 991.83,346.8 992.3,348.76 993.33,353.04 994.83,359.05 996.32,364.85 997.19,368.1 997.82,370.44 999.32,375.82 1000.81,381 1002.08,385.23 1002.31,385.99 1003.81,390.8 1005.31,395.43 1006.8,399.88 1006.97,400.36 1008.3,404.17 1009.8,408.3 1011.3,412.28 1011.86,413.74 1012.79,416.11 1014.29,419.8 1015.79,423.35 1016.75,425.56 1017.28,426.77 1018.78,430.07 1020.28,433.24 1021.64,436.03 1021.78,436.3 1023.27,439.25 1024.77,442.1 1026.27,444.84 1026.53,445.32 1027.76,447.49 1029.26,450.04 1030.76,452.5 1031.42,453.57 1032.26,454.88 1033.75,457.17 1035.25,459.39 1036.31,460.92 1036.75,461.53 1038.25,463.6 1039.74,465.6 1041.21,467.49 1041.24,467.53 1042.74,469.4 1044.23,471.21 1045.73,472.95 1046.1,473.37 1047.23,474.65 1048.73,476.28 1050.22,477.87 1050.99,478.66 1051.72,479.4 1053.22,480.89 1054.71,482.33 1055.88,483.41 1056.21,483.72 1057.71,485.07 1060.77,487.71 1065.66,491.6 1070.55,495.13 1075.44,498.34 1080.33,501.27 1085.22,503.95 1090.12,506.41 1095.01,508.66 1099.9,510.73 1104.79,512.64 1109.68,514.4 1114.57,516.04 1119.46,517.55 1124.35,518.96 1129.24,520.26 1134.13,521.48 1139.03,522.62 1143.92,523.68 1148.81,524.67 1153.7,525.6 1158.59,526.47 1163.48,527.29 1168.37,528.06 1173.26,528.79 1178.15,529.47 1183.04,530.12 1187.93,530.72 1192.83,531.3 1197.72,531.85 1202.61,532.36 1207.5,532.85 1212.39,533.32 1217.28,533.76 1222.17,534.18 1227.06,534.58 1231.95,534.96 1236.84,535.32 1241.74,535.67 1246.63,536 1251.52,536.31 1256.41,536.61 1261.3,536.9 1266.19,537.18 1271.08,537.44 1275.97,537.69 1280.86,537.94 1285.75,538.17 1290.65,538.39 1295.54,538.61 1300.43,538.81 1305.32,539.01 1310.21,539.2 1315.1,539.38 1319.99,539.56 1324.88,539.73 1329.77,539.89 1334.66,540.05 1339.56,540.2 1344.45,540.35 1349.34,540.49 1354.23,540.63 1359.12,540.76 1364.01,540.89 1368.9,541.01 1373.79,541.13 1378.68,541.25 1383.57,541.36 1388.47,541.47 1393.36,541.57 1398.25,541.68 1403.14,541.77 1408.03,541.87 1412.92,541.96 1417.81,542.05 1422.7,542.14 1427.59,542.22 1432.48,542.31 1437.38,542.39 1442.27,542.46 1447.16,542.54 1452.05,542.61 1456.94,542.68 1461.83,542.75 1466.72,542.82 1471.61,542.89 1476.5,542.95 1481.39,543.01 1486.28,543.07 1491.18,543.13 1496.07,543.19 1500.96,543.25 1505.85,543.3 1510.74,543.35 1515.63,543.4 1520.52,543.46 1525.41,543.5 1530.3,543.55 1535.19,543.6 1540.09,543.65 1544.98,543.69 1549.87,543.73 1554.76,543.78 1559.65,543.82 1564.54,543.86 1569.43,543.9 1574.32,543.94 1579.21,543.98 1584.1,544.01 1589,544.05 1593.89,544.09 1598.78,544.12"/>
<polyline class="c" stroke-opacity="0.395" points="131.48,541.57 136.37,541.38 141.26,541.18 146.16,540.97 151.05,540.74 155.94,540.49 160.83,540.23 165.72,539.95 170.61,539.64 175.5,539.31 180.39,538.95 185.28,538.55 190.17,538.13 195.07,537.66 199.96,537.15 204.23,536.67 204.85,536.59 205.72,536.49 207.22,536.3 208.72,536.11 209.74,535.98 210.22,535.92 211.71,535.72 213.21,535.51 214.63,535.31 214.71,535.29 216.2,535.07 217.7,534.85 219.2,534.61 219.52,534.56 220.7,534.37 222.19,534.12 223.69,533.86 224.41,533.73 225.19,533.6 226.68,533.32 228.18,533.04 229.3,532.82 229.68,532.74 231.18,532.44 232.67,532.13 234.17,531.81 234.19,531.8 235.67,531.47 237.17,531.13 238.66,530.77 239.08,530.67 240.16,530.4 241.66,530.02 243.15,529.63 243.98,529.41 244.65,529.22 246.15,528.8 247.65,528.37 248.87,528 249.14,527.92 250.64,527.45 252.14,526.97 253.64,526.47 253.76,526.43 255.13,525.95 256.63,525.42 258.13,524.87 258.65,524.67 259.62,524.3 261.12,523.71 262.62,523.1 263.54,522.72 264.12,522.48 265.61,521.83 267.11,521.16 268.43,520.55 268.61,520.47 270.1,519.76 271.6,519.02 273.1,518.27 273.32,518.16 274.6,517.49 276.09,516.69 277.59,515.88 278.21,515.53 279.09,515.04 280.59,514.17 282.08,513.29 283.1,512.68 283.58,512.4 285.08,511.48 286.57,510.55 287.99,509.65 288.07,509.6 289.57,508.64 291.07,507.68 292.56,506.7 292.88,506.49 294.06,505.72 295.56,504.74 297.06,503.76 297.78,503.3 298.55,502.79 300.05,501.83 301.55,500.89 302.67,500.2 303.04,499.97 304.54,499.07 306.04,498.21 307.54,497.39 307.56,497.37 309.03,496.6 310.53,495.87 312.03,495.19 312.45,495.01 313.52,494.57 315.02,494.01 316.52,493.53 317.34,493.29 318.02,493.12 319.51,492.78 321.01,492.53 322.23,492.38 322.51,492.36 324.01,492.27 325.5,492.26 327,492.34 327.12,492.35 328.5,492.51 329.99,492.75 331.49,493.07 332.01,493.2 332.99,493.47 334.49,493.94 335.98,494.48 336.9,494.84 337.48,495.07 338.98,495.73 340.48,496.43 341.79,497.1 341.97,497.19 343.47,497.98 344.97,498.8 346.46,499.66 346.69,499.79 347.96,500.54 349.46,501.44 350.96,502.35 351.58,502.73 352.45,503.27 353.95,504.2 355.45,505.12 356.47,505.75 356.94,506.05 358.44,506.97 359.94,507.88 361.36,508.74 361.44,508.79 362.93,509.68 364.43,510.55 365.93,511.41 366.25,511.6 367.43,512.26 368.92,513.08 370.42,513.89 371.14,514.27 371.92,514.68 373.41,515.44 374.91,516.19 376.03,516.73 376.41,516.91 377.91,517.62 379.4,518.3 380.9,518.97 380.92,518.98 382.4,519.61 383.9,520.23 385.39,520.83 385.81,521 386.89,521.42 388.39,521.98 389.88,522.52 390.7,522.82 391.38,523.05 392.88,523.56 394.38,524.05 395.6,524.44 395.87,524.53 397.37,524.98 398.87,525.43 400.36,525.85 400.49,525.89 401.86,526.27 403.36,526.66 404.86,527.05 405.38,527.18 406.35,527.42 407.85,527.78 409.35,528.12 410.27,528.33 410.85,528.45 412.34,528.77 413.84,529.08 415.16,529.35 415.34,529.38 416.83,529.67 418.33,529.95 419.83,530.22 420.05,530.26 421.33,530.48 422.82,530.73 424.32,530.97 424.94,531.06 425.82,531.2 427.32,531.42 428.81,531.64 429.83,531.78 430.31,531.85 431.81,532.05 433.3,532.24 434.72,532.42 434.8,532.43 436.3,532.61 437.8,532.79 439.29,532.96 439.61,532.99 440.79,533.12 442.29,533.27 443.78,533.43 444.51,533.5 449.4,533.95 454.29,534.35 459.18,534.7 464.07,535.01 468.96,535.29 473.85,535.53 478.74,535.74 483.63,535.92 488.52,536.08 493.42,536.21 498.31,536.32 503.2,536.41 508.09,536.48 512.98,536.53 517.87,536.56 522.76,536.58 527.65,536.58 532.54,536.57 537.43,536.54 542.33,536.5 547.22,536.44 552.11,536.37 557,536.29 561.89,536.19 566.78,536.08 571.67,535.96 576.56,535.82 581.45,535.67 586.34,535.51 591.23,535.33 596.13,535.14 601.02,534.93 605.91,534.71 610.8,534.47 615.69,534.22 620.58,533.95 625.47,533.66 630.36,533.35 635.25,533.03 640.14,532.68 645.04,532.31 649.93,531.92 654.82,531.5 659.71,531.06 664.6,530.6 669.49,530.1 674.38,529.57 679.27,529.01 684.16,528.42 689.05,527.78 693.95,527.11 698.84,526.39 703.73,525.63 708.62,524.81 713.51,523.94 718.4,523.01 723.29,522.01 728.18,520.95 733.07,519.8 737.96,518.58 742.86,517.26 747.75,515.84 752.64,514.31 757.53,512.65 762.42,510.86 767.31,508.93 772.2,506.82 777.09,504.53 781.98,502.04 786.87,499.32 791.77,496.34 796.66,493.08 801.55,489.49 806.44,485.53 810.08,482.32 811.33,481.16 811.58,480.93 813.08,479.49 814.57,478.01 816.07,476.48 816.22,476.32 817.57,474.9 819.06,473.27 820.56,471.58 821.11,470.95 822.06,469.84 823.56,468.04 825.05,466.18 826,464.97 826.55,464.26 828.05,462.27 829.54,460.21 830.89,458.29 831.04,458.08 832.54,455.87 834.04,453.59 835.53,451.22 835.78,450.82 837.03,448.78 838.53,446.24 840.03,443.61 840.68,442.44 841.52,440.88 843.02,438.05 844.52,435.12 845.57,433 846.01,432.08 847.51,428.93 849.01,425.65 850.46,422.37 850.51,422.26 852,418.73 853.5,415.07 855,411.27 855.35,410.36 856.5,407.32 857.99,403.22 859.49,398.96 860.24,396.77 860.99,394.54 862.48,389.95 863.98,385.17 865.13,381.39 865.48,380.22 866.98,375.07 868.47,369.73 869.97,364.18 870.02,363.98 871.47,358.41 872.96,352.43 874.46,346.23 874.91,344.32 875.96,339.8 877.46,333.13 878.95,326.22 879.8,322.2 880.45,319.07 881.95,311.67 883.45,304.03 884.69,297.46 884.94,296.13 886.44,287.98 887.94,279.59 889.43,270.96 889.58,270.08 890.93,262.1 892.43,253.01 893.93,243.71 894.48,240.25 895.42,234.22 896.92,224.56 898.42,214.75 899.37,208.47 899.92,204.82 901.41,194.81 902.91,184.75 904.26,175.69 904.41,174.69 905.9,164.67 907.4,154.76 908.9,145.02 909.15,143.41 910.4,135.49 911.89,126.27 913.39,117.4 914.04,113.69 914.89,108.98 916.38,101.07 917.88,93.76 918.93,89.02 919.38,87.1 920.88,81.18 922.37,76.05 923.82,71.9 923.87,71.78 925.37,68.41 926.87,65.99 928.36,64.54 928.71,64.35 929.86,64.09 931.36,64.64 932.85,66.18 933.6,67.31 934.35,68.69 935.85,72.15 937.35,76.51 938.49,80.44 938.84,81.72 940.34,87.73 941.84,94.47 943.34,101.86 943.39,102.12 944.83,109.84 946.33,118.32 947.83,127.25 948.28,130 949.32,136.53 950.82,146.11 952.32,155.9 953.17,161.53 953.82,165.86 955.31,175.91 956.81,186.01 958.06,194.42 958.31,196.1 959.8,206.14 961.3,216.09 962.8,225.93 962.95,226.91 964.3,235.61 965.79,245.11 967.29,254.42 967.84,257.79 968.79,263.52 970.29,272.4 971.78,281.03 972.73,286.38 973.28,289.43 974.78,297.58 976.27,305.48 977.62,312.38 977.77,313.13 979.27,320.52 980.77,327.67 982.26,334.58 982.51,335.71 983.76,341.25 985.26,347.67 986.76,353.87 987.4,356.49 988.25,359.85 989.75,365.6 991.25,371.15 992.3,374.91 992.74,376.49 994.24,381.63 995.74,386.58 997.19,391.19 997.24,391.34 998.73,395.93 1000.23,400.35 1001.73,404.6 1002.08,405.57 1003.22,408.69 1004.72,412.63 1006.22,416.43 1006.97,418.27 1007.72,420.08 1009.21,423.6 1010.71,426.99 1011.86,429.51 1012.21,430.26 1013.71,433.41 1015.2,436.44 1016.7,439.36 1016.75,439.46 1018.2,442.19 1019.69,444.91 1021.19,447.53 1021.64,448.3 1022.69,450.06 1024.19,452.51 1025.68,454.86 1026.53,456.17 1027.18,457.14 1028.68,459.34 1030.18,461.47 1031.42,463.19 1031.67,463.52 1033.17,465.51 1034.67,467.43 1036.16,469.28 1036.31,469.47 1037.66,471.08 1039.16,472.82 1040.66,474.5 1041.21,475.1 1042.15,476.12 1043.65,477.7 1045.15,479.23 1046.1,480.17 1046.64,480.7 1048.14,482.14 1049.64,483.53 1050.99,484.74 1055.88,488.88 1060.77,492.62 1065.66,496.03 1070.55,499.14 1075.44,501.97 1080.33,504.57 1085.22,506.95 1090.12,509.14 1095.01,511.15 1099.9,513.02 1104.79,514.74 1109.68,516.33 1114.57,517.81 1119.46,519.18 1124.35,520.46 1129.24,521.66 1134.13,522.77 1139.03,523.81 1143.92,524.79 1148.81,525.7 1153.7,526.56 1158.59,527.37 1163.48,528.13 1168.37,528.84 1173.26,529.52 1178.15,530.15 1183.04,530.76 1187.93,531.33 1192.83,531.87 1197.72,532.38 1202.61,532.86 1207.5,533.32 1212.39,533.76 1217.28,534.18 1222.17,534.57 1227.06,534.95 1231.95,535.31 1236.84,535.66 1241.74,535.98 1246.63,536.3 1251.52,536.6 1256.41,536.88 1261.3,537.16 1266.19,537.42 1271.08,537.67 1275.97,537.91 1280.86,538.15 1285.75,538.37 1290.65,538.58 1295.54,538.79 1300.43,538.99 1305.32,539.18 1310.21,539.36 1315.1,539.53 1319.99,539.7 1324.88,539.87 1329.77,540.03 1334.66,540.18 1339.56,540.32 1344.45,540.47 1349.34,540.6 1354.23,540.74 1359.12,540.86 1364.01,540.99 1368.9,541.11 1373.79,541.22 1378.68,541.34 1383.57,541.44 1388.47,541.55 1393.36,541.65 1398.25,541.75 1403.14,541.85 1408.03,541.94 1412.92,542.03 1417.81,542.12 1422.7,542.2 1427.59,542.28 1432.48,542.36 1437.38,542.44 1442.27,542.52 1447.16,542.59 1452.05,542.66 1456.94,542.73 1461.83,542.8 1466.72,542.86 1471.61,542.93 1476.5,542.99 1481.39,543.05 1486.28,543.11 1491.18,543.17 1496.07,543.23 1500.96,543.28 1505.85,543.33 1510.74,543.39 1515.63,543.44 1520.52,543.49 1525.41,543.53 1530.3,543.58 1535.19,543.63 1540.09,543.67 1544.98,543.72 1549.87,543.76 1554.76,543.8 1559.65,543.84 1564.54,543.88 1569.43,543.92 1574.32,543.96 1579.21,544 1584.1,544.03 1589,544.07 1593.89,544.11 1598.78,544.14"/>
<polyline class="c" stroke-opacity="0.309" points="131.48,539.26 136.37,538.85 141.26,538.41 142.77,538.27 144.27,538.12 145.77,537.97 146.16,537.93 147.26,537.81 148.76,537.65 150.26,537.48 151.05,537.39 151.75,537.31 153.25,537.13 154.75,536.95 155.94,536.8 156.25,536.76 157.74,536.57 159.24,536.37 160.74,536.16 160.83,536.15 162.24,535.95 163.73,535.73 165.23,535.51 165.72,535.43 166.73,535.27 168.22,535.03 169.72,534.78 170.61,534.63 171.22,534.52 172.72,534.26 174.21,533.98 175.5,533.74 175.71,533.7 177.21,533.41 178.71,533.1 180.2,532.79 180.39,532.75 181.7,532.47 183.2,532.13 184.69,531.78 185.28,531.64 186.19,531.43 187.69,531.05 189.19,530.67 190.17,530.41 190.68,530.27 192.18,529.86 193.68,529.44 195.07,529.04 195.17,529 196.67,528.55 198.17,528.08 199.67,527.6 199.96,527.5 201.16,527.1 202.66,526.58 204.16,526.05 204.85,525.8 205.66,525.5 207.15,524.93 208.65,524.35 209.74,523.91 210.15,523.75 211.64,523.13 213.14,522.49 214.63,521.84 214.64,521.83 216.14,521.16 217.63,520.47 219.13,519.77 219.52,519.58 220.63,519.05 222.13,518.31 223.62,517.56 224.41,517.16 225.12,516.79 226.62,516.02 228.11,515.23 229.3,514.61 229.61,514.44 231.11,513.64 232.61,512.84 234.1,512.04 234.19,511.99 235.6,511.24 237.1,510.45 238.59,509.66 239.08,509.41 240.09,508.89 241.59,508.14 243.09,507.41 243.98,506.99 244.58,506.7 246.08,506.03 247.58,505.39 248.87,504.87 249.08,504.79 250.57,504.24 252.07,503.73 253.57,503.28 253.76,503.23 255.06,502.89 256.56,502.55 258.06,502.28 258.65,502.19 259.56,502.08 261.05,501.94 262.55,501.87 263.54,501.86 264.05,501.87 265.55,501.94 267.04,502.07 268.43,502.26 268.54,502.27 270.04,502.54 271.53,502.87 273.03,503.25 273.32,503.33 274.53,503.69 276.03,504.18 277.52,504.72 278.21,504.98 279.02,505.3 280.52,505.91 282.01,506.56 283.1,507.05 283.51,507.24 285.01,507.94 286.51,508.66 287.99,509.39 288,509.4 289.5,510.15 291,510.9 292.5,511.66 292.88,511.86 293.99,512.42 295.49,513.18 296.99,513.94 297.78,514.34 298.48,514.69 299.98,515.43 301.48,516.16 302.67,516.74 302.98,516.88 304.47,517.59 305.97,518.28 307.47,518.96 307.56,519 308.97,519.62 310.46,520.27 311.96,520.9 312.45,521.1 313.46,521.52 314.95,522.11 316.45,522.69 317.34,523.03 317.95,523.25 319.45,523.8 320.94,524.33 322.23,524.77 322.44,524.84 323.94,525.34 325.43,525.82 326.93,526.28 327.12,526.34 328.43,526.73 329.93,527.16 331.42,527.58 332.01,527.75 332.92,527.99 334.42,528.38 335.92,528.76 336.9,529 337.41,529.12 338.91,529.48 340.41,529.82 341.79,530.12 341.9,530.15 343.4,530.46 344.9,530.77 346.4,531.06 346.69,531.12 347.89,531.35 349.39,531.62 350.89,531.89 351.58,532.01 352.39,532.15 353.88,532.39 355.38,532.63 356.47,532.8 356.88,532.86 358.37,533.09 359.87,533.3 361.36,533.51 361.37,533.51 362.87,533.71 364.36,533.9 365.86,534.09 366.25,534.13 367.36,534.27 368.85,534.44 370.35,534.61 371.14,534.69 371.85,534.77 373.35,534.93 374.84,535.08 376.03,535.19 376.34,535.22 377.84,535.36 379.34,535.5 380.83,535.63 380.92,535.64 382.33,535.76 385.81,536.04 390.7,536.39 395.6,536.71 400.49,536.99 405.38,537.23 410.27,537.45 415.16,537.65 420.05,537.82 424.94,537.97 429.83,538.1 434.72,538.21 439.61,538.3 444.51,538.38 449.4,538.45 454.29,538.5 459.18,538.54 464.07,538.56 468.96,538.58 473.85,538.58 478.74,538.57 483.63,538.55 488.52,538.52 493.42,538.49 498.31,538.44 503.2,538.38 508.09,538.32 512.98,538.24 517.87,538.16 522.76,538.07 527.65,537.97 532.54,537.86 537.43,537.74 542.33,537.61 547.22,537.47 552.11,537.33 557,537.17 561.89,537 566.78,536.82 571.67,536.64 576.56,536.44 581.45,536.23 586.34,536 591.23,535.77 596.13,535.52 601.02,535.26 605.91,534.98 610.8,534.69 615.69,534.38 620.58,534.05 625.47,533.71 630.36,533.35 635.25,532.97 640.14,532.56 645.04,532.14 649.93,531.69 654.82,531.21 659.71,530.71 664.6,530.18 669.49,529.61 674.38,529.02 679.27,528.38 684.16,527.71 689.05,527 693.95,526.24 698.84,525.43 703.73,524.57 708.62,523.65 713.51,522.68 718.4,521.63 723.29,520.51 728.18,519.31 733.07,518.02 737.96,516.63 742.86,515.14 747.75,513.53 752.64,511.79 757.53,509.91 762.42,507.88 767.31,505.66 772.2,503.26 777.09,500.63 781.98,497.77 786.87,494.63 791.77,491.19 796.66,487.4 801.55,483.22 803.48,481.46 804.98,480.04 806.44,478.61 806.47,478.57 807.97,477.06 809.47,475.5 810.97,473.89 811.33,473.49 812.46,472.22 813.96,470.5 815.46,468.73 816.22,467.8 816.95,466.89 818.45,464.99 819.95,463.03 821.11,461.46 821.45,461 822.94,458.9 824.44,456.72 825.94,454.47 826,454.38 827.44,452.14 828.93,449.73 830.43,447.23 830.89,446.44 831.93,444.64 833.42,441.96 834.92,439.17 835.78,437.52 836.42,436.29 837.92,433.3 839.41,430.19 840.68,427.49 840.91,426.97 842.41,423.63 843.9,420.16 845.4,416.56 845.57,416.16 846.9,412.82 848.4,408.94 849.89,404.91 850.46,403.35 851.39,400.72 852.89,396.37 854.39,391.85 855.35,388.85 855.88,387.15 857.38,382.28 858.88,377.21 860.24,372.43 860.37,371.95 861.87,366.48 863.37,360.81 864.87,354.92 865.13,353.86 866.36,348.8 867.86,342.46 869.36,335.87 870.02,332.88 870.86,329.05 872.35,321.98 873.85,314.66 874.91,309.31 875.35,307.08 876.84,299.25 878.34,291.16 879.8,283.02 879.84,282.82 881.34,274.22 882.83,265.37 884.33,256.28 884.69,254.04 885.83,246.96 887.32,237.43 888.82,227.69 889.58,222.66 890.32,217.77 891.82,207.7 893.31,197.51 894.48,189.53 894.81,187.22 896.31,176.88 897.81,166.54 899.3,156.25 899.37,155.81 900.8,146.06 902.3,136.03 903.79,126.23 904.26,123.26 905.29,116.74 906.79,107.61 908.29,98.94 909.15,94.17 909.78,90.79 911.28,83.25 912.78,76.38 914.04,71.18 914.27,70.27 915.77,64.98 917.27,60.57 918.77,57.09 918.93,56.77 920.26,54.58 921.76,53.08 923.26,52.6 923.82,52.69 924.76,53.16 926.25,54.73 927.75,57.31 928.71,59.48 929.25,60.86 930.74,65.34 932.24,70.7 933.6,76.28 933.74,76.87 935.24,83.79 936.73,91.39 938.23,99.6 938.49,101.1 939.73,108.32 941.23,117.49 942.72,127.03 943.39,131.36 944.22,136.87 945.72,146.94 947.21,157.16 948.28,164.48 948.71,167.49 950.21,177.85 951.71,188.21 953.17,198.27 953.2,198.52 954.7,208.73 956.2,218.82 957.69,228.75 958.06,231.14 959.19,238.5 960.69,248.05 962.19,257.37 962.95,262.04 963.68,266.47 965.18,275.32 966.68,283.92 967.84,290.42 968.18,292.27 969.67,300.36 971.17,308.19 972.67,315.76 972.73,316.08 974.16,323.08 975.66,330.15 977.16,336.97 977.62,339.03 978.66,343.55 980.15,349.89 981.65,356 982.51,359.42 983.15,361.89 984.65,367.56 986.14,373.02 987.4,377.47 987.64,378.28 989.14,383.34 990.63,388.21 992.13,392.9 992.3,393.4 993.63,397.41 995.13,401.76 996.62,405.94 997.19,407.47 998.12,409.96 999.62,413.84 1001.11,417.57 1002.08,419.9 1002.61,421.17 1004.11,424.63 1005.61,427.97 1006.97,430.9 1007.1,431.18 1008.6,434.28 1010.1,437.27 1011.6,440.15 1011.86,440.64 1013.09,442.92 1014.59,445.6 1016.09,448.19 1016.75,449.3 1017.58,450.68 1019.08,453.09 1020.58,455.42 1021.64,457.02 1022.08,457.66 1023.57,459.83 1025.07,461.93 1026.53,463.91 1026.57,463.95 1028.07,465.91 1029.56,467.8 1031.06,469.64 1031.42,470.07 1032.56,471.41 1034.05,473.12 1035.55,474.79 1036.31,475.61 1037.05,476.39 1038.55,477.95 1040.04,479.46 1041.21,480.6 1041.54,480.92 1043.04,482.34 1046.1,485.1 1050.99,489.17 1055.88,492.87 1060.77,496.23 1065.66,499.3 1070.55,502.1 1075.44,504.67 1080.33,507.03 1085.22,509.19 1090.12,511.19 1095.01,513.04 1099.9,514.74 1104.79,516.33 1109.68,517.8 1114.57,519.16 1119.46,520.43 1124.35,521.62 1129.24,522.73 1134.13,523.77 1139.03,524.74 1143.92,525.65 1148.81,526.51 1153.7,527.31 1158.59,528.07 1163.48,528.78 1168.37,529.46 1173.26,530.09 1178.15,530.7 1183.04,531.26 1187.93,531.8 1192.83,532.32 1197.72,532.8 1202.61,533.26 1207.5,533.7 1212.39,534.12 1217.28,534.51 1222.17,534.89 1227.06,535.25 1231.95,535.6 1236.84,535.93 1241.74,536.24 1246.63,536.54 1251.52,536.83 1256.41,537.1 1261.3,537.37 1266.19,537.62 1271.08,537.86 1275.97,538.09 1280.86,538.32 1285.75,538.53 1290.65,538.74 1295.54,538.94 1300.43,539.13 1305.32,539.31 1310.21,539.49 1315.1,539.66 1319.99,539.82 1324.88,539.98 1329.77,540.14 1334.66,540.28 1339.56,540.43 1344.45,540.56 1349.34,540.7 1354.23,540.82 1359.12,540.95 1364.01,541.07 1368.9,541.19 1373.79,541.3 1378.68,541.41 1383.57,541.51 1388.47,541.62 1393.36,541.72 1398.25,541.81 1403.14,541.91 1408.03,542 1412.92,542.08 1417.81,542.17 1422.7,542.25 1427.59,542.33 1432.48,542.41 1437.38,542.49 1442.27,542.56 1447.16,542.63 1452.05,542.7 1456.94,542.77 1461.83,542.84 1466.72,542.9 1471.61,542.97 1476.5,543.03 1481.39,543.09 1486.28,543.14 1491.18,543.2 1496.07,543.26 1500.96,543.31 1505.85,543.36 1510.74,543.41 1515.63,543.46 1520.52,543.51 1525.41,543.56 1530.3,543.61 1535.19,543.65 1540.09,543.7 1544.98,543.74 1549.87,543.78 1554.76,543.82 1559.65,543.86 1564.54,543.9 1569.43,543.94 1574.32,543.98 1579.21,544.02 1584.1,544.05 1589,544.09 1593.89,544.12 1598.78,544.16"/>
<polyline class="c" stroke-opacity="0.223" points="131.48,532.08 132.59,531.81 134.09,531.43 135.58,531.04 136.37,530.83 137.08,530.64 138.58,530.22 140.07,529.8 141.26,529.44 141.57,529.35 143.07,528.89 144.57,528.42 146.06,527.94 146.16,527.91 147.56,527.44 149.06,526.92 150.55,526.39 151.05,526.21 152.05,525.85 153.55,525.29 155.05,524.71 155.94,524.37 156.54,524.13 158.04,523.53 159.54,522.92 160.83,522.38 161.04,522.29 162.53,521.66 164.03,521.01 165.53,520.36 165.72,520.28 167.02,519.71 168.52,519.04 170.02,518.38 170.61,518.12 171.52,517.71 173.01,517.05 174.51,516.39 175.5,515.96 176.01,515.74 177.51,515.1 179,514.48 180.39,513.92 180.5,513.88 182,513.29 183.49,512.73 184.99,512.21 185.28,512.11 186.49,511.71 187.99,511.25 189.48,510.84 190.17,510.66 190.98,510.46 192.48,510.14 193.97,509.86 195.07,509.69 195.47,509.64 196.97,509.47 198.47,509.36 199.96,509.3 199.96,509.3 201.46,509.3 202.96,509.36 204.46,509.47 204.85,509.51 205.95,509.64 207.45,509.86 208.95,510.14 209.74,510.3 210.44,510.46 211.94,510.83 213.44,511.23 214.63,511.59 214.94,511.68 216.43,512.16 217.93,512.67 219.43,513.21 219.52,513.25 220.93,513.78 222.42,514.36 223.92,514.96 224.41,515.16 225.42,515.57 226.91,516.2 228.41,516.82 229.3,517.2 229.91,517.46 231.41,518.09 232.9,518.72 234.19,519.26 234.4,519.35 235.9,519.98 237.39,520.59 238.89,521.2 239.08,521.28 240.39,521.8 241.89,522.39 243.38,522.97 243.98,523.19 244.88,523.53 246.38,524.08 247.88,524.62 248.87,524.97 249.37,525.15 250.87,525.66 252.37,526.16 253.76,526.61 253.86,526.64 255.36,527.11 256.86,527.56 258.36,528 258.65,528.09 259.85,528.43 261.35,528.85 262.85,529.25 263.54,529.43 264.35,529.63 265.84,530.01 267.34,530.37 268.43,530.63 268.84,530.72 270.33,531.06 271.83,531.39 273.32,531.7 273.33,531.7 274.83,532.01 276.32,532.3 277.82,532.59 278.21,532.66 279.32,532.86 280.81,533.13 282.31,533.38 283.1,533.51 283.81,533.63 285.31,533.87 286.8,534.1 287.99,534.28 288.3,534.32 289.8,534.54 291.3,534.74 292.79,534.94 292.88,534.96 294.29,535.14 295.79,535.32 297.28,535.5 297.78,535.56 298.78,535.68 300.28,535.85 301.78,536.01 302.67,536.1 303.27,536.17 304.77,536.32 306.27,536.46 307.56,536.58 307.77,536.6 309.26,536.74 310.76,536.87 312.26,537 312.45,537.02 313.75,537.12 315.25,537.24 316.75,537.36 317.34,537.4 318.25,537.47 319.74,537.57 322.23,537.74 327.12,538.05 332.01,538.33 336.9,538.57 341.79,538.79 346.69,538.99 351.58,539.16 356.47,539.31 361.36,539.45 366.25,539.57 371.14,539.68 376.03,539.77 380.92,539.84 385.81,539.91 390.7,539.97 395.6,540.01 400.49,540.05 405.38,540.07 410.27,540.09 415.16,540.1 420.05,540.1 424.94,540.09 429.83,540.08 434.72,540.06 439.61,540.03 444.51,540 449.4,539.96 454.29,539.92 459.18,539.86 464.07,539.8 468.96,539.74 473.85,539.67 478.74,539.59 483.63,539.51 488.52,539.42 493.42,539.33 498.31,539.22 503.2,539.12 508.09,539 512.98,538.88 517.87,538.75 522.76,538.62 527.65,538.47 532.54,538.32 537.43,538.17 542.33,538 547.22,537.83 552.11,537.64 557,537.45 561.89,537.25 566.78,537.04 571.67,536.82 576.56,536.58 581.45,536.34 586.34,536.08 591.23,535.82 596.13,535.53 601.02,535.24 605.91,534.93 610.8,534.6 615.69,534.26 620.58,533.9 625.47,533.52 630.36,533.12 635.25,532.7 640.14,532.25 645.04,531.78 649.93,531.29 654.82,530.77 659.71,530.22 664.6,529.64 669.49,529.02 674.38,528.37 679.27,527.68 684.16,526.94 689.05,526.16 693.95,525.33 698.84,524.45 703.73,523.5 708.62,522.5 713.51,521.42 718.4,520.27 723.29,519.04 728.18,517.72 733.07,516.3 737.96,514.77 742.86,513.12 747.75,511.33 752.64,509.41 757.53,507.32 762.42,505.05 767.31,502.58 772.2,499.89 777.09,496.95 781.98,493.73 786.87,490.2 791.77,486.31 796.66,482.02 798.01,480.76 799.51,479.31 801,477.83 801.55,477.28 802.5,476.29 804,474.71 805.5,473.07 806.44,472.02 806.99,471.38 808.49,469.64 809.99,467.83 811.33,466.17 811.48,465.97 812.98,464.04 814.48,462.05 815.98,459.99 816.22,459.65 817.47,457.86 818.97,455.65 820.47,453.36 821.11,452.36 821.97,451 823.46,448.55 824.96,446.01 826,444.19 826.46,443.38 827.95,440.65 829.45,437.83 830.89,435.01 830.95,434.9 832.45,431.86 833.94,428.7 835.44,425.43 835.78,424.67 836.94,422.04 838.44,418.51 839.93,414.86 840.68,412.99 841.43,411.06 842.93,407.11 844.42,403.01 845.57,399.78 845.92,398.76 847.42,394.34 848.92,389.74 850.41,384.97 850.46,384.83 851.91,380.01 853.41,374.86 854.9,369.51 855.35,367.89 856.4,363.95 857.9,358.18 859.4,352.19 860.24,348.71 860.89,345.96 862.39,339.51 863.89,332.81 865.13,327.07 865.39,325.87 866.88,318.67 868.38,311.22 869.88,303.5 870.02,302.75 871.37,295.53 872.87,287.29 874.37,278.79 874.91,275.64 875.87,270.03 877.36,261.01 878.86,251.75 879.8,245.8 880.36,242.25 881.86,232.53 883.35,222.6 884.69,213.54 884.85,212.48 886.35,202.21 887.84,191.8 889.34,181.31 889.58,179.59 890.84,170.75 892.34,160.2 893.83,149.68 894.48,145.2 895.33,139.27 896.83,129.03 898.32,119.01 899.37,112.22 899.82,109.3 901.32,99.97 902.82,91.1 904.26,83.06 904.31,82.76 905.81,75.04 907.31,68.02 908.81,61.76 909.15,60.44 910.3,56.34 911.8,51.82 913.3,48.25 914.04,46.85 914.79,45.68 916.29,44.14 917.79,43.64 918.93,43.97 919.29,44.19 920.78,45.79 922.28,48.42 923.78,52.05 923.82,52.17 925.28,56.62 926.77,62.09 928.27,68.4 928.71,70.41 929.77,75.47 931.26,83.23 932.76,91.61 933.6,96.56 934.26,100.52 935.76,109.89 937.25,119.63 938.49,127.95 938.75,129.68 940.25,139.95 941.74,150.39 943.24,160.93 943.39,161.94 944.74,171.51 946.24,182.08 947.73,192.59 948.28,196.38 949.23,203.01 950.73,213.29 952.23,223.42 953.17,229.7 953.72,233.36 955.22,243.09 956.72,252.59 958.06,260.91 958.21,261.86 959.71,270.88 961.21,279.64 962.71,288.14 962.95,289.5 964.2,296.38 965.7,304.36 967.2,312.07 967.84,315.3 968.7,319.52 970.19,326.72 971.69,333.66 972.73,338.34 973.19,340.35 974.68,346.8 976.18,353.02 977.62,358.79 977.68,359.01 979.18,364.78 980.67,370.33 982.17,375.68 982.51,376.88 983.67,380.83 985.16,385.78 986.66,390.55 987.4,392.84 988.16,395.13 989.66,399.55 991.15,403.8 992.3,406.94 992.65,407.89 994.15,411.83 995.65,415.63 997.14,419.28 997.19,419.39 998.64,422.8 1000.14,426.19 1001.63,429.46 1002.08,430.4 1003.13,432.61 1004.63,435.64 1006.13,438.57 1006.97,440.17 1007.62,441.39 1009.12,444.11 1010.62,446.73 1011.86,448.84 1012.12,449.27 1013.61,451.71 1015.11,454.08 1016.61,456.36 1016.75,456.57 1018.1,458.56 1019.6,460.69 1021.1,462.75 1021.64,463.48 1022.6,464.74 1024.09,466.66 1025.59,468.52 1026.53,469.66 1027.09,470.32 1028.58,472.06 1030.08,473.75 1031.42,475.21 1031.58,475.38 1033.08,476.96 1034.57,478.49 1036.07,479.98 1036.31,480.21 1037.57,481.41 1041.21,484.73 1046.1,488.82 1050.99,492.53 1055.88,495.9 1060.77,498.98 1065.66,501.8 1070.55,504.37 1075.44,506.74 1080.33,508.92 1085.22,510.93 1090.12,512.79 1095.01,514.5 1099.9,516.09 1104.79,517.57 1109.68,518.95 1114.57,520.23 1119.46,521.42 1124.35,522.54 1129.24,523.58 1134.13,524.56 1139.03,525.48 1143.92,526.34 1148.81,527.15 1153.7,527.91 1158.59,528.63 1163.48,529.31 1168.37,529.95 1173.26,530.56 1178.15,531.13 1183.04,531.68 1187.93,532.19 1192.83,532.68 1197.72,533.15 1202.61,533.59 1207.5,534.01 1212.39,534.41 1217.28,534.79 1222.17,535.15 1227.06,535.5 1231.95,535.83 1236.84,536.15 1241.74,536.45 1246.63,536.74 1251.52,537.02 1256.41,537.28 1261.3,537.54 1266.19,537.78 1271.08,538.02 1275.97,538.24 1280.86,538.46 1285.75,538.67 1290.65,538.87 1295.54,539.06 1300.43,539.25 1305.32,539.43 1310.21,539.6 1315.1,539.76 1319.99,539.92 1324.88,540.08 1329.77,540.23 1334.66,540.37 1339.56,540.51 1344.45,540.64 1349.34,540.77 1354.23,540.9 1359.12,541.02 1364.01,541.14 1368.9,541.25 1373.79,541.36 1378.68,541.47 1383.57,541.57 1388.47,541.67 1393.36,541.77 1398.25,541.86 1403.14,541.96 1408.03,542.05 1412.92,542.13 1417.81,542.22 1422.7,542.3 1427.59,542.38 1432.48,542.45 1437.38,542.53 1442.27,542.6 1447.16,542.67 1452.05,542.74 1456.94,542.81 1461.83,542.87 1466.72,542.94 1471.61,543 1476.5,543.06 1481.39,543.12 1486.28,543.17 1491.18,543.23 1496.07,543.28 1500.96,543.34 1505.85,543.39 1510.74,543.44 1515.63,543.49 1520.52,543.54 1525.41,543.58 1530.3,543.63 1535.19,543.67 1540.09,543.72 1544.98,543.76 1549.87,543.8 1554.76,543.84 1559.65,543.88 1564.54,543.92 1569.43,543.96 1574.32,544 1579.21,544.03 1584.1,544.07 1589,544.1 1593.89,544.14 1598.78,544.17"/>
<polyline class="c" stroke-opacity="0.136" points="131.48,515.47 132,515.41 133.5,515.27 135,515.17 136.37,515.13 136.49,515.13 137.99,515.13 139.49,515.18 140.99,515.28 141.26,515.3 142.48,515.42 143.98,515.61 145.48,515.84 146.16,515.95 146.98,516.11 148.47,516.42 149.97,516.76 151.05,517.03 151.47,517.14 152.96,517.54 154.46,517.98 155.94,518.42 155.96,518.43 157.46,518.9 158.95,519.4 160.45,519.9 160.83,520.03 161.95,520.42 163.44,520.94 164.94,521.47 165.72,521.75 166.44,522 167.94,522.54 169.43,523.07 170.61,523.49 170.93,523.6 172.43,524.13 173.93,524.65 175.42,525.16 175.5,525.19 176.92,525.66 178.42,526.16 179.91,526.65 180.39,526.8 181.41,527.12 182.91,527.59 184.41,528.04 185.28,528.3 185.9,528.49 187.4,528.92 188.9,529.34 190.17,529.69 190.39,529.74 191.89,530.14 193.39,530.52 194.89,530.9 195.07,530.94 196.38,531.26 197.88,531.61 199.38,531.94 199.96,532.07 200.88,532.27 202.37,532.59 203.87,532.89 204.85,533.09 205.37,533.19 206.86,533.48 208.36,533.75 209.74,534 209.86,534.02 211.36,534.28 212.85,534.53 214.35,534.77 214.63,534.81 215.85,535 217.35,535.22 218.84,535.44 219.52,535.54 220.34,535.65 221.84,535.85 223.33,536.05 224.41,536.18 224.83,536.24 226.33,536.42 227.83,536.59 229.3,536.76 229.32,536.76 230.82,536.93 232.32,537.09 233.81,537.24 234.19,537.28 235.31,537.39 236.81,537.53 238.31,537.67 239.08,537.74 239.8,537.8 241.3,537.93 242.8,538.05 243.98,538.15 244.3,538.17 245.79,538.29 247.29,538.4 248.79,538.51 248.87,538.52 250.28,538.62 251.78,538.72 253.28,538.81 253.76,538.85 254.78,538.91 256.27,539 258.65,539.14 263.54,539.4 268.43,539.64 273.32,539.85 278.21,540.04 283.1,540.21 287.99,540.36 292.88,540.5 297.78,540.62 302.67,540.73 307.56,540.82 312.45,540.91 317.34,540.98 322.23,541.04 327.12,541.1 332.01,541.14 336.9,541.18 341.79,541.21 346.69,541.23 351.58,541.25 356.47,541.26 361.36,541.27 366.25,541.27 371.14,541.26 376.03,541.25 380.92,541.24 385.81,541.22 390.7,541.19 395.6,541.16 400.49,541.13 405.38,541.09 410.27,541.05 415.16,541 420.05,540.95 424.94,540.89 429.83,540.83 434.72,540.77 439.61,540.7 444.51,540.63 449.4,540.55 454.29,540.47 459.18,540.38 464.07,540.29 468.96,540.2 473.85,540.1 478.74,539.99 483.63,539.88 488.52,539.77 493.42,539.65 498.31,539.52 503.2,539.39 508.09,539.25 512.98,539.11 517.87,538.96 522.76,538.8 527.65,538.64 532.54,538.47 537.43,538.29 542.33,538.1 547.22,537.91 552.11,537.71 557,537.49 561.89,537.27 566.78,537.04 571.67,536.8 576.56,536.54 581.45,536.28 586.34,536 591.23,535.71 596.13,535.4 601.02,535.08 605.91,534.75 610.8,534.4 615.69,534.03 620.58,533.64 625.47,533.23 630.36,532.8 635.25,532.35 640.14,531.88 645.04,531.38 649.93,530.85 654.82,530.29 659.71,529.7 664.6,529.07 669.49,528.41 674.38,527.71 679.27,526.97 684.16,526.18 689.05,525.34 693.95,524.45 698.84,523.5 703.73,522.48 708.62,521.4 713.51,520.24 718.4,519 723.29,517.66 728.18,516.23 733.07,514.69 737.96,513.03 742.86,511.23 747.75,509.29 752.64,507.19 757.53,504.91 762.42,502.43 767.31,499.72 772.2,496.76 777.09,493.52 781.98,489.97 786.87,486.06 791.77,481.75 793.42,480.19 794.92,478.73 796.42,477.23 796.66,476.98 797.91,475.67 799.41,474.07 800.91,472.42 801.55,471.69 802.41,470.71 803.9,468.94 805.4,467.12 806.44,465.82 806.9,465.23 808.4,463.28 809.89,461.27 811.33,459.27 811.39,459.18 812.89,457.02 814.38,454.79 815.88,452.48 816.22,451.94 817.38,450.08 818.88,447.6 820.37,445.04 821.11,443.74 821.87,442.37 823.37,439.62 824.86,436.76 826,434.51 826.36,433.79 827.86,430.71 829.36,427.52 830.85,424.21 830.89,424.12 832.35,420.77 833.85,417.21 835.35,413.5 835.78,412.39 836.84,409.66 838.34,405.66 839.84,401.51 840.68,399.12 841.33,397.2 842.83,392.73 844.33,388.08 845.57,384.1 845.83,383.24 847.32,378.22 848.82,373 850.32,367.58 850.46,367.07 851.82,361.95 853.31,356.1 854.81,350.03 855.35,347.79 856.31,343.73 857.8,337.18 859.3,330.39 860.24,326.01 860.8,323.35 862.3,316.06 863.79,308.5 865.13,301.53 865.29,300.68 866.79,292.59 868.28,284.24 869.78,275.61 870.02,274.21 871.28,266.73 872.78,257.58 874.27,248.18 874.91,244.1 875.77,238.54 877.27,228.67 878.77,218.58 879.8,211.49 880.26,208.31 881.76,197.88 883.26,187.31 884.69,177.08 884.75,176.64 886.25,165.92 887.75,155.19 889.25,144.5 889.58,142.1 890.74,133.92 892.24,123.5 893.74,113.32 894.48,108.4 895.24,103.44 896.73,93.95 898.23,84.92 899.37,78.42 899.73,76.43 901.22,68.58 902.72,61.42 904.22,55.05 904.26,54.89 905.72,49.53 907.21,44.92 908.71,41.28 909.15,40.41 910.21,38.66 911.7,37.08 913.2,36.57 914.04,36.75 914.7,37.12 916.2,38.75 917.69,41.42 918.93,44.39 919.19,45.1 920.69,49.75 922.19,55.31 923.68,61.72 923.82,62.36 925.18,68.91 926.68,76.8 928.17,85.32 928.71,88.52 929.67,94.38 931.17,103.9 932.67,113.81 933.6,120.17 934.16,124.02 935.66,134.46 937.16,145.06 938.49,154.62 938.66,155.77 940.15,166.51 941.65,177.25 943.15,187.93 943.39,189.62 944.64,198.51 946.14,208.95 947.64,219.23 948.28,223.55 949.14,229.32 950.63,239.19 952.13,248.84 953.17,255.38 953.63,258.24 955.12,267.39 956.62,276.28 958.06,284.56 958.12,284.91 959.62,293.26 961.11,301.35 962.61,309.17 962.95,310.9 964.11,316.72 965.61,324.02 967.1,331.06 967.84,334.43 968.6,337.84 970.1,344.38 971.59,350.68 972.73,355.31 973.09,356.75 974.59,362.6 976.09,368.22 977.58,373.64 977.62,373.78 979.08,378.85 980.58,383.87 982.08,388.7 982.51,390.08 983.57,393.35 985.07,397.82 986.57,402.13 987.4,404.47 988.06,406.27 989.56,410.26 991.06,414.1 992.3,417.17 992.56,417.8 994.05,421.37 995.55,424.8 997.05,428.11 997.19,428.41 998.54,431.29 1000.04,434.36 1001.54,437.33 1002.08,438.37 1003.04,440.18 1004.53,442.94 1006.03,445.59 1006.97,447.21 1007.53,448.16 1009.03,450.64 1010.52,453.03 1011.86,455.09 1012.02,455.33 1013.52,457.56 1015.01,459.72 1016.51,461.8 1016.75,462.13 1018.01,463.81 1019.51,465.76 1021,467.64 1021.64,468.43 1022.5,469.46 1024,471.23 1025.5,472.93 1026.53,474.08 1026.99,474.58 1028.49,476.18 1029.99,477.73 1031.42,479.17 1031.48,479.23 1032.98,480.69 1036.31,483.77 1041.21,487.93 1046.1,491.71 1050.99,495.14 1055.88,498.27 1060.77,501.14 1065.66,503.76 1070.55,506.17 1075.44,508.38 1080.33,510.42 1085.22,512.31 1090.12,514.05 1095.01,515.67 1099.9,517.17 1104.79,518.57 1109.68,519.87 1114.57,521.08 1119.46,522.22 1124.35,523.28 1129.24,524.27 1134.13,525.2 1139.03,526.08 1143.92,526.9 1148.81,527.67 1153.7,528.4 1158.59,529.09 1163.48,529.74 1168.37,530.36 1173.26,530.94 1178.15,531.49 1183.04,532.01 1187.93,532.51 1192.83,532.98 1197.72,533.43 1202.61,533.86 1207.5,534.26 1212.39,534.65 1217.28,535.02 1222.17,535.37 1227.06,535.71 1231.95,536.03 1236.84,536.33 1241.74,536.63 1246.63,536.91 1251.52,537.18 1256.41,537.44 1261.3,537.69 1266.19,537.92 1271.08,538.15 1275.97,538.37 1280.86,538.58 1285.75,538.78 1290.65,538.98 1295.54,539.17 1300.43,539.35 1305.32,539.52 1310.21,539.69 1315.1,539.85 1319.99,540.01 1324.88,540.16 1329.77,540.31 1334.66,540.45 1339.56,540.58 1344.45,540.71 1349.34,540.84 1354.23,540.96 1359.12,541.08 1364.01,541.2 1368.9,541.31 1373.79,541.42 1378.68,541.52 1383.57,541.62 1388.47,541.72 1393.36,541.82 1398.25,541.91 1403.14,542 1408.03,542.09 1412.92,542.17 1417.81,542.26 1422.7,542.34 1427.59,542.41 1432.48,542.49 1437.38,542.56 1442.27,542.63 1447.16,542.7 1452.05,542.77 1456.94,542.84 1461.83,542.9 1466.72,542.96 1471.61,543.02 1476.5,543.08 1481.39,543.14 1486.28,543.2 1491.18,543.25 1496.07,543.31 1500.96,543.36 1505.85,543.41 1510.74,543.46 1515.63,543.51 1520.52,543.56 1525.41,543.6 1530.3,543.65 1535.19,543.69 1540.09,543.74 1544.98,543.78 1549.87,543.82 1554.76,543.86 1559.65,543.9 1564.54,543.94 1569.43,543.97 1574.32,544.01 1579.21,544.05 1584.1,544.08 1589,544.12 1593.89,544.15 1598.78,544.18"/>
<polyline class="c" stroke-opacity="0.050" points="131.48,533.35 132.22,533.5 133.72,533.8 135.21,534.09 136.37,534.31 136.71,534.37 138.21,534.64 139.7,534.9 141.2,535.16 141.26,535.17 142.7,535.4 144.2,535.64 145.69,535.86 146.16,535.93 147.19,536.08 148.69,536.3 150.19,536.5 151.05,536.62 151.68,536.7 153.18,536.89 154.68,537.08 155.94,537.23 156.17,537.26 157.67,537.43 159.17,537.6 160.67,537.76 160.83,537.78 162.16,537.91 163.66,538.07 165.16,538.21 165.72,538.26 166.65,538.35 168.15,538.49 169.65,538.62 170.61,538.7 171.15,538.74 172.64,538.87 174.14,538.98 175.5,539.09 175.64,539.1 177.14,539.21 178.63,539.32 180.13,539.42 180.39,539.44 181.63,539.52 183.12,539.62 184.62,539.71 185.28,539.75 186.12,539.8 187.62,539.89 189.11,539.97 190.17,540.03 190.61,540.05 192.11,540.13 195.07,540.28 199.96,540.51 204.85,540.71 209.74,540.89 214.63,541.05 219.52,541.2 224.41,541.33 229.3,541.45 234.19,541.55 239.08,541.65 243.98,541.73 248.87,541.81 253.76,541.87 258.65,541.93 263.54,541.98 268.43,542.02 273.32,542.06 278.21,542.09 283.1,542.12 287.99,542.14 292.88,542.15 297.78,542.16 302.67,542.17 307.56,542.17 312.45,542.17 317.34,542.17 322.23,542.16 327.12,542.14 332.01,542.13 336.9,542.11 341.79,542.08 346.69,542.06 351.58,542.03 356.47,542 361.36,541.96 366.25,541.92 371.14,541.88 376.03,541.84 380.92,541.79 385.81,541.74 390.7,541.69 395.6,541.63 400.49,541.57 405.38,541.51 410.27,541.44 415.16,541.37 420.05,541.3 424.94,541.22 429.83,541.15 434.72,541.06 439.61,540.98 444.51,540.89 449.4,540.79 454.29,540.7 459.18,540.59 464.07,540.49 468.96,540.38 473.85,540.27 478.74,540.15 483.63,540.02 488.52,539.89 493.42,539.76 498.31,539.62 503.2,539.48 508.09,539.33 512.98,539.17 517.87,539.01 522.76,538.84 527.65,538.66 532.54,538.48 537.43,538.28 542.33,538.08 547.22,537.88 552.11,537.66 557,537.43 561.89,537.2 566.78,536.95 571.67,536.69 576.56,536.42 581.45,536.14 586.34,535.85 591.23,535.54 596.13,535.22 601.02,534.88 605.91,534.53 610.8,534.15 615.69,533.76 620.58,533.35 625.47,532.92 630.36,532.47 635.25,532 640.14,531.49 645.04,530.96 649.93,530.4 654.82,529.81 659.71,529.19 664.6,528.53 669.49,527.83 674.38,527.09 679.27,526.3 684.16,525.46 689.05,524.57 693.95,523.63 698.84,522.61 703.73,521.53 708.62,520.38 713.51,519.14 718.4,517.82 723.29,516.39 728.18,514.86 733.07,513.21 737.96,511.43 742.86,509.5 747.75,507.42 752.64,505.15 757.53,502.69 762.42,500.01 767.31,497.08 772.2,493.87 777.09,490.36 781.98,486.49 786.87,482.22 789.53,479.72 791.03,478.25 791.77,477.51 792.53,476.73 794.02,475.17 795.52,473.55 796.66,472.29 797.02,471.88 798.52,470.16 800.01,468.38 801.51,466.54 801.55,466.49 803.01,464.63 804.5,462.67 806,460.63 806.44,460.03 807.5,458.53 809,456.35 810.49,454.1 811.33,452.8 811.99,451.76 813.49,449.35 814.99,446.84 816.22,444.71 816.48,444.25 817.98,441.57 819.48,438.78 820.97,435.89 821.11,435.62 822.47,432.9 823.97,429.79 825.47,426.57 826,425.39 826.96,423.23 828.46,419.76 829.96,416.16 830.89,413.84 831.45,412.42 832.95,408.54 834.45,404.5 835.78,400.78 835.95,400.31 837.44,395.96 838.94,391.44 840.44,386.74 840.68,385.98 841.94,381.86 843.43,376.79 844.93,371.52 845.57,369.22 846.43,366.04 847.92,360.35 849.42,354.44 850.46,350.23 850.92,348.31 852.42,341.94 853.91,335.32 855.35,328.76 855.41,328.46 856.91,321.35 858.41,313.97 859.9,306.33 860.24,304.58 861.4,298.43 862.9,290.25 864.39,281.8 865.13,277.55 865.89,273.08 867.39,264.09 868.89,254.84 870.02,247.65 870.38,245.33 871.88,235.57 873.38,225.59 874.87,215.38 874.91,215.13 876.37,204.99 877.87,194.42 879.37,183.72 879.8,180.58 880.86,172.92 882.36,162.07 883.86,151.2 884.69,145.15 885.36,140.37 886.85,129.65 888.35,119.09 889.58,110.56 889.85,108.77 891.34,98.76 892.84,89.14 894.34,79.99 894.48,79.17 895.84,71.38 897.33,63.41 898.83,56.16 899.37,53.75 900.33,49.69 901.83,44.09 903.32,39.42 904.26,36.99 904.82,35.72 906.32,33.06 907.81,31.45 909.15,30.93 909.31,30.93 910.81,31.49 912.31,33.13 913.8,35.83 914.04,36.35 915.3,39.56 916.8,44.27 918.29,49.9 918.93,52.56 919.79,56.4 921.29,63.68 922.79,71.68 923.82,77.58 924.28,80.31 925.78,89.49 927.28,99.13 928.71,108.74 928.78,109.16 930.27,119.51 931.77,130.08 933.27,140.82 933.6,143.25 934.76,151.66 936.26,162.54 937.76,173.41 938.49,178.73 939.26,184.22 940.75,194.92 942.25,205.5 943.39,213.4 943.75,215.9 945.25,226.11 946.74,236.1 948.24,245.86 948.28,246.1 949.74,255.37 951.23,264.62 952.73,273.61 953.17,276.18 954.23,282.33 955.73,290.78 957.22,298.96 958.06,303.41 958.72,306.87 960.22,314.5 961.71,321.88 962.95,327.76 963.21,328.99 964.71,335.85 966.21,342.46 967.7,348.83 967.84,349.4 969.2,354.96 970.7,360.86 972.2,366.55 972.73,368.53 973.69,372.02 975.19,377.29 976.69,382.36 977.62,385.43 978.18,387.24 979.68,391.93 981.18,396.45 982.51,400.33 982.68,400.8 984.17,404.98 985.67,409.01 987.17,412.89 987.4,413.49 988.67,416.63 990.16,420.23 991.66,423.69 992.3,425.13 993.16,427.03 994.65,430.25 996.15,433.35 997.19,435.43 997.65,436.34 999.15,439.23 1000.64,442.01 1002.08,444.58 1002.14,444.69 1003.64,447.28 1005.13,449.78 1006.63,452.19 1006.97,452.72 1008.13,454.52 1009.63,456.77 1011.12,458.95 1011.86,459.99 1012.62,461.05 1014.12,463.08 1015.62,465.04 1016.75,466.49 1017.11,466.94 1018.61,468.78 1020.11,470.56 1021.6,472.28 1021.64,472.33 1023.1,473.95 1024.6,475.56 1026.1,477.13 1026.53,477.58 1027.59,478.64 1029.09,480.11 1031.42,482.31 1036.31,486.6 1041.21,490.48 1046.1,494.02 1050.99,497.24 1055.88,500.18 1060.77,502.87 1065.66,505.34 1070.55,507.62 1075.44,509.71 1080.33,511.64 1085.22,513.43 1090.12,515.09 1095.01,516.63 1099.9,518.05 1104.79,519.39 1109.68,520.63 1114.57,521.79 1119.46,522.87 1124.35,523.89 1129.24,524.84 1134.13,525.73 1139.03,526.57 1143.92,527.36 1148.81,528.11 1153.7,528.81 1158.59,529.47 1163.48,530.1 1168.37,530.7 1173.26,531.26 1178.15,531.79 1183.04,532.3 1187.93,532.78 1192.83,533.23 1197.72,533.67 1202.61,534.08 1207.5,534.48 1212.39,534.85 1217.28,535.21 1222.17,535.55 1227.06,535.88 1231.95,536.19 1236.84,536.49 1241.74,536.78 1246.63,537.05 1251.52,537.31 1256.41,537.57 1261.3,537.81 1266.19,538.04 1271.08,538.26 1275.97,538.48 1280.86,538.68 1285.75,538.88 1290.65,539.07 1295.54,539.26 1300.43,539.43 1305.32,539.61 1310.21,539.77 1315.1,539.93 1319.99,540.08 1324.88,540.23 1329.77,540.37 1334.66,540.51 1339.56,540.64 1344.45,540.77 1349.34,540.9 1354.23,541.02 1359.12,541.14 1364.01,541.25 1368.9,541.36 1373.79,541.47 1378.68,541.57 1383.57,541.67 1388.47,541.77 1393.36,541.86 1398.25,541.95 1403.14,542.04 1408.03,542.12 1412.92,542.21 1417.81,542.29 1422.7,542.37 1427.59,542.45 1432.48,542.52 1437.38,542.59 1442.27,542.66 1447.16,542.73 1452.05,542.8 1456.94,542.86 1461.83,542.93 1466.72,542.99 1471.61,543.05 1476.5,543.11 1481.39,543.16 1486.28,543.22 1491.18,543.27 1496.07,543.33 1500.96,543.38 1505.85,543.43 1510.74,543.48 1515.63,543.53 1520.52,543.57 1525.41,543.62 1530.3,543.66 1535.19,543.71 1540.09,543.75 1544.98,543.79 1549.87,543.83 1554.76,543.87 1559.65,543.91 1564.54,543.95 1569.43,543.99 1574.32,544.02 1579.21,544.06 1584.1,544.09 1589,544.13 1593.89,544.16 1598.78,544.2"/>
</g>
<rect x="1141.8" y="21.95" width="440.60" height="84.70" fill="url(#cb)"/>
<rect class="sp" x="1141.8" y="21.95" width="440.60" height="84.70"/>
<line class="tk" x1="1229.92" y1="106.65" x2="1229.92" y2="118.55"/>
<line class="tk" x1="1318.04" y1="106.65" x2="1318.04" y2="118.55"/>
<line class="tk" x1="1406.16" y1="106.65" x2="1406.16" y2="118.55"/>
<line class="tk" x1="1494.28" y1="106.65" x2="1494.28" y2="118.55"/>
<rect class="sp" x="131.5" y="5.3" width="1467.10" height="564.70"/>
<line class="tk" x1="303.67" y1="570.0" x2="303.67" y2="581.90"/>
<line class="tk" x1="490.82" y1="570.0" x2="490.82" y2="581.90"/>
<line class="tk" x1="677.98" y1="570.0" x2="677.98" y2="581.90"/>
<line class="tk" x1="865.13" y1="570.0" x2="865.13" y2="581.90"/>
<line class="tk" x1="1052.28" y1="570.0" x2="1052.28" y2="581.90"/>
<line class="tk" x1="1239.44" y1="570.0" x2="1239.44" y2="581.90"/>
<line class="tk" x1="1426.59" y1="570.0" x2="1426.59" y2="581.90"/>
<line class="tk" x1="131.5" y1="546.50" x2="120.00" y2="546.50"/>
<line class="tk" x1="131.5" y1="412.52" x2="120.00" y2="412.52"/>
<line class="tk" x1="131.5" y1="278.54" x2="120.00" y2="278.54"/>
<line class="tk" x1="131.5" y1="144.56" x2="120.00" y2="144.56"/>
<line class="tk" x1="131.5" y1="10.58" x2="120.00" y2="10.58"/>
<text transform="translate(665.79,661.00) scale(1.1139,1.0200)">Probe</text>
<text transform="translate(762.13,661.00) scale(1.0937,1.0200)">detuning</text>
<text class="ns" transform="translate(900.30,660.90) scale(1.2816,1.0864)">Δ</text>
<text transform="translate(929.04,666.10) scale(0.7368,0.6818)">12</text>
<text transform="translate(967.31,661.55) scale(0.9588,1.1217)">(</text>
<text transform="translate(978.38,661.00) scale(1.0241,1.0300)">MHz</text>
<text transform="translate(1049.70,661.55) scale(0.9029,1.1217)">)</text>
<text class="ns" transform="translate(1281.39,197.40) scale(1.2842,1.0636)">Δ</text>
<text transform="translate(1309.95,203.00) scale(0.7016,0.6818)">23</text>
<text transform="translate(1348.15,197.96) scale(0.9647,1.1200)">(</text>
<text transform="translate(1359.18,197.40) scale(1.0226,1.0300)">MHz</text>
<text transform="translate(1430.31,197.96) scale(0.8914,1.1200)">)</text>
<text transform="translate(25.20,0) rotate(-90) translate(-486.60,0) scale(1.1046,1.0200)">Probe</text>
<text transform="translate(25.20,0) rotate(-90) translate(-390.46,0) scale(1.0856,1.0200)">absorption</text>
<text transform="translate(25.25,0) rotate(-90) translate(-224.76,0) scale(0.9765,1.1067)">(</text>
<text transform="translate(27.60,0) rotate(-90) translate(-213.09,0) scale(1.3097,1.0000)">−</text>
<text class="im" transform="translate(25.20,0) rotate(-90) translate(-189.04,0) scale(1.1053,0.9231)">ℑ</text>
<text transform="translate(27.79,0) rotate(-90) translate(-162.17,0) scale(0.6667,1.1568)">[</text>
<text class="it" transform="translate(25.20,0) rotate(-90) translate(-152.85,0) scale(1.1365,1.0000)">ρ</text>
<text transform="translate(30.80,0) rotate(-90) translate(-136.79,0) scale(0.6567,0.6955)">21</text>
<text transform="translate(27.79,0) rotate(-90) translate(-112.70,0) scale(0.6400,1.1568)">]</text>
<text transform="translate(25.25,0) rotate(-90) translate(-102.65,0) scale(0.9486,1.1067)">)</text>
<text transform="translate(275.47,616.49) scale(1.0348,1.0247)">-7.5</text>
<text transform="translate(462.63,616.50) scale(1.0348,1.0022)">-5.0</text>
<text transform="translate(649.78,616.49) scale(1.0348,1.0133)">-2.5</text>
<text transform="translate(843.55,616.50) scale(1.0242,1.0022)">0.0</text>
<text transform="translate(1030.44,616.49) scale(1.0308,1.0133)">2.5</text>
<text transform="translate(1217.05,616.50) scale(1.0442,1.0022)">5.0</text>
<text transform="translate(1403.93,616.49) scale(1.0510,1.0247)">7.5</text>
<text transform="translate(49.03,558.10) scale(1.0188,1.0066)">0.00</text>
<text transform="translate(49.01,424.12) scale(1.0281,1.0066)">0.02</text>
<text transform="translate(49.04,290.14) scale(1.0053,1.0066)">0.04</text>
<text transform="translate(49.04,156.16) scale(1.0098,1.0066)">0.06</text>
<text transform="translate(49.03,22.18) scale(1.0188,1.0066)">0.08</text>
<text transform="translate(1220.59,153.20) scale(1.1547,1.0091)">2</text>
<text transform="translate(1309.95,153.20) scale(0.9714,1.0091)">4</text>
<text transform="translate(1396.95,152.95) scale(1.0737,0.9978)">6</text>
<text transform="translate(1485.34,152.95) scale(1.0737,0.9867)">8</text>
</svg>
</body>
</html>
